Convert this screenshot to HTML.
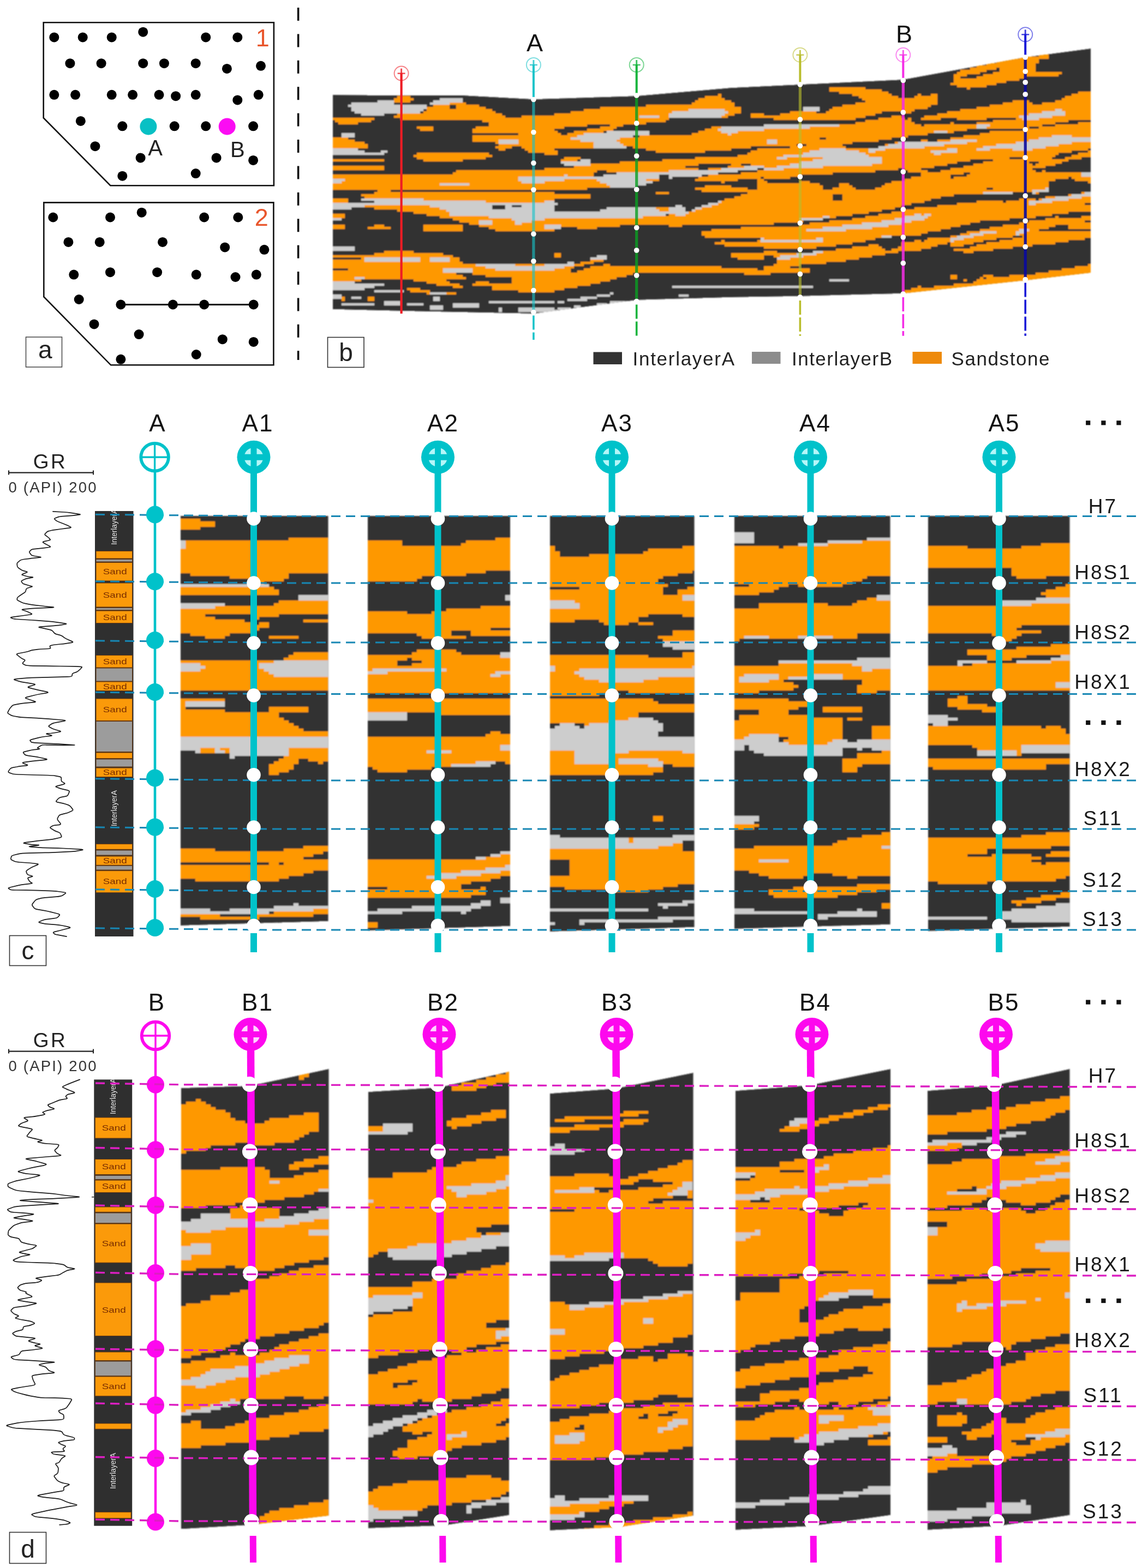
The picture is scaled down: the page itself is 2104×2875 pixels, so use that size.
<!DOCTYPE html>
<html lang="en"><head><meta charset="utf-8"><title>Figure</title>
<style>
html,body{margin:0;padding:0;background:#fff;}
body{width:2104px;height:2875px;overflow:hidden;}
svg{display:block;}
svg text{font-family:"Liberation Sans",sans-serif;}
</style></head><body>
<svg width="2104" height="2875" viewBox="0 0 2104 2875">
<defs><filter id="soft" x="-2%" y="-2%" width="104%" height="104%"><feGaussianBlur stdDeviation="1.1"/></filter></defs>
<rect width="2104" height="2875" fill="#fff"/>
<g id="panel-a">
<polygon points="79.7,41.2 501.9,41.2 501.9,340.2 202.3,340.2 79.7,216.1" fill="#fff" stroke="#111" stroke-width="2.6"/>
<circle cx="99.3" cy="68.4" r="9" fill="#000"/>
<circle cx="151.7" cy="68.4" r="9" fill="#000"/>
<circle cx="204.7" cy="68.4" r="9" fill="#000"/>
<circle cx="262.2" cy="58.7" r="9" fill="#000"/>
<circle cx="377.2" cy="68.4" r="9" fill="#000"/>
<circle cx="435.3" cy="68.4" r="9" fill="#000"/>
<circle cx="128.4" cy="116.2" r="9" fill="#000"/>
<circle cx="185.6" cy="116.2" r="9" fill="#000"/>
<circle cx="262.2" cy="116.2" r="9" fill="#000"/>
<circle cx="300.9" cy="116.2" r="9" fill="#000"/>
<circle cx="358.7" cy="116.2" r="9" fill="#000"/>
<circle cx="415.9" cy="125.9" r="9" fill="#000"/>
<circle cx="478" cy="120.8" r="9" fill="#000"/>
<circle cx="99.3" cy="173.8" r="9" fill="#000"/>
<circle cx="138.1" cy="173.8" r="9" fill="#000"/>
<circle cx="204.7" cy="173.8" r="9" fill="#000"/>
<circle cx="243.1" cy="173.8" r="9" fill="#000"/>
<circle cx="291.5" cy="173.8" r="9" fill="#000"/>
<circle cx="322.1" cy="176.2" r="9" fill="#000"/>
<circle cx="358.7" cy="173.8" r="9" fill="#000"/>
<circle cx="435.3" cy="183.4" r="9" fill="#000"/>
<circle cx="473.7" cy="173.8" r="9" fill="#000"/>
<circle cx="147.8" cy="221.9" r="9" fill="#000"/>
<circle cx="224.3" cy="231.3" r="9" fill="#000"/>
<circle cx="319.7" cy="231.3" r="9" fill="#000"/>
<circle cx="377.2" cy="231.3" r="9" fill="#000"/>
<circle cx="464.1" cy="231.3" r="9" fill="#000"/>
<circle cx="174.4" cy="268.2" r="9" fill="#000"/>
<circle cx="257.6" cy="289.4" r="9" fill="#000"/>
<circle cx="396.6" cy="289.4" r="9" fill="#000"/>
<circle cx="464.1" cy="293.9" r="9" fill="#000"/>
<circle cx="224.3" cy="322.7" r="9" fill="#000"/>
<circle cx="358.7" cy="318.1" r="9" fill="#000"/>
<circle cx="271.9" cy="231.9" r="15.5" fill="#08c0c4"/>
<circle cx="416.2" cy="231.9" r="15.5" fill="#fb0cf3"/>
<text x="284.6" y="284.8" font-size="40" text-anchor="middle" fill="#222">A</text>
<text x="435.3" y="287.9" font-size="40" text-anchor="middle" fill="#222">B</text>
<text x="481.3" y="84.5" font-size="45" text-anchor="middle" fill="#e9562c">1</text>
<polygon points="80.3,371.4 501.4,371.4 501.4,669.3 203.1,669.3 80.3,544.2" fill="#fff" stroke="#111" stroke-width="2.6"/>
<circle cx="97.3" cy="398.5" r="9" fill="#000"/>
<circle cx="202" cy="398.5" r="9" fill="#000"/>
<circle cx="259.7" cy="389.7" r="9" fill="#000"/>
<circle cx="374.2" cy="398.5" r="9" fill="#000"/>
<circle cx="436.3" cy="398.5" r="9" fill="#000"/>
<circle cx="125.4" cy="443.9" r="9" fill="#000"/>
<circle cx="182.7" cy="443.9" r="9" fill="#000"/>
<circle cx="298" cy="443.9" r="9" fill="#000"/>
<circle cx="412.2" cy="453.4" r="9" fill="#000"/>
<circle cx="484.4" cy="457.8" r="9" fill="#000"/>
<circle cx="135.3" cy="503.6" r="9" fill="#000"/>
<circle cx="202" cy="499.2" r="9" fill="#000"/>
<circle cx="288.1" cy="499.2" r="9" fill="#000"/>
<circle cx="359.7" cy="503.6" r="9" fill="#000"/>
<circle cx="431.5" cy="508" r="9" fill="#000"/>
<circle cx="469.8" cy="503.6" r="9" fill="#000"/>
<circle cx="144.7" cy="549" r="9" fill="#000"/>
<circle cx="221.4" cy="558.5" r="9" fill="#000"/>
<circle cx="316.9" cy="558.5" r="9" fill="#000"/>
<circle cx="374.2" cy="558.5" r="9" fill="#000"/>
<circle cx="464.7" cy="558.5" r="9" fill="#000"/>
<circle cx="172.5" cy="594.4" r="9" fill="#000"/>
<circle cx="254.6" cy="613.1" r="9" fill="#000"/>
<circle cx="407.8" cy="622.2" r="9" fill="#000"/>
<circle cx="464.7" cy="626.9" r="9" fill="#000"/>
<circle cx="221.4" cy="658.8" r="9" fill="#000"/>
<circle cx="359.7" cy="650" r="9" fill="#000"/>
<line x1="221.4" y1="558.5" x2="464.7" y2="558.5" stroke="#000" stroke-width="3"/>
<text x="479.3" y="414.1" font-size="45" text-anchor="middle" fill="#e9562c">2</text>
<rect x="47.5" y="618" width="66" height="55" fill="#fff" stroke="#444" stroke-width="1.5"/>
<text x="82.7" y="657.1" font-size="46" text-anchor="middle" fill="#222">a</text>
<rect x="544.8" y="14" width="3.6" height="24" fill="#111"/>
<rect x="544.8" y="62.4" width="3.6" height="24" fill="#111"/>
<rect x="544.8" y="110.8" width="3.6" height="24" fill="#111"/>
<rect x="544.8" y="159.2" width="3.6" height="24" fill="#111"/>
<rect x="544.8" y="207.6" width="3.6" height="24" fill="#111"/>
<rect x="544.8" y="256" width="3.6" height="24" fill="#111"/>
<rect x="544.8" y="304.4" width="3.6" height="24" fill="#111"/>
<rect x="544.8" y="352.8" width="3.6" height="24" fill="#111"/>
<rect x="544.8" y="401.2" width="3.6" height="24" fill="#111"/>
<rect x="544.8" y="449.6" width="3.6" height="24" fill="#111"/>
<rect x="544.8" y="498" width="3.6" height="24" fill="#111"/>
<rect x="544.8" y="546.4" width="3.6" height="24" fill="#111"/>
<rect x="544.8" y="594.8" width="3.6" height="24" fill="#111"/>
<rect x="544.8" y="643.2" width="3.6" height="16.8" fill="#111"/>
</g>
<g id="panel-b">
<clipPath id="cp1"><polygon points="610,174 735,175 850,175 978,182 1167,176 1340,161 1466,155 1655,146 1879,105 1999,89 1999,500 1879,514 1655,538 1466,543 1340,545 1167,550 978,575 735,570 610,567"/></clipPath>
<g filter="url(#soft)"><g clip-path="url(#cp1)" shape-rendering="crispEdges">
<polygon points="610,174 735,175 850,175 978,182 1167,176 1340,161 1466,155 1655,146 1879,105 1999,89 1999,500 1879,514 1655,538 1466,543 1340,545 1167,550 978,575 735,570 610,567" fill="#313131"/>
<g transform="translate(608 88) scale(6 4)">
<path fill="#fe9802" d="M216 3h3v1h-3zM210 4h9v1h-9zM205 5h11v1h-11zM203 6h13v1h-13zM200 7h15v1h-15zM197 8h18v1h-18zM195 9h8v1h-8zM204 9h11v2h-11zM192 10h8v1h-8zM191 11h7v1h-7zM202 11h21v1h-21zM190 12h4v1h-4zM199 12h23v1h-23zM190 13h2v1h-2zM197 13h15v1h-15zM190 14h20v1h-20zM190 15h16v1h-16zM189 16h14v1h-14zM191 17h9v1h-9zM194 18h1v1h-1zM152 18h11v1h-11zM152 19h16v1h-16zM155 20h15v1h-15zM228 20h4v1h-4zM183 21h2v1h-2zM159 21h12v1h-12zM179 21h1v1h-1zM226 21h6v1h-6zM118 21h1v1h-1zM224 22h8v1h-8zM161 22h12v1h-12zM178 22h7v1h-7zM20 22h4v1h-4zM114 22h5v1h-5zM19 23h6v1h-6zM162 23h23v1h-23zM112 23h8v1h-8zM223 23h9v1h-9zM163 24h22v1h-22zM19 24h5v1h-5zM208 24h5v1h-5zM221 24h11v1h-11zM111 24h11v1h-11zM110 25h13v1h-13zM36 25h5v1h-5zM205 25h9v1h-9zM217 25h15v1h-15zM160 25h25v1h-25zM201 26h31v1h-31zM38 26h7v1h-7zM96 26h27v1h-27zM31 26h5v1h-5zM156 26h27v1h-27zM38 27h9v1h-9zM153 27h29v1h-29zM197 27h35v1h-35zM29 27h7v1h-7zM82 27h43v1h-43zM77 28h32v1h-32zM29 28h20v1h-20zM152 28h26v1h-26zM223 28h9v1h-9zM120 28h5v1h-5zM192 28h29v1h-29zM28 29h22v1h-22zM151 29h17v1h-17zM188 29h29v1h-29zM73 29h31v1h-31zM175 29h2v1h-2zM140 29h8v1h-8zM121 29h4v1h-4zM224 29h8v2h-8zM137 30h29v1h-29zM120 30h3v1h-3zM128 30h4v1h-4zM185 30h28v1h-28zM68 30h35v1h-35zM20 30h32v1h-32zM128 31h35v1h-35zM19 31h34v1h-34zM119 31h2v1h-2zM58 31h36v1h-36zM100 31h3v1h-3zM171 31h3v1h-3zM220 31h12v1h-12zM181 31h29v1h-29zM209 32h2v1h-2zM135 32h25v1h-25zM176 32h1v1h-1zM191 32h9v1h-9zM167 32h8v1h-8zM21 32h82v1h-82zM216 32h16v1h-16zM0 32h13v1h-13zM180 32h6v1h-6zM202 33h23v1h-23zM46 33h56v1h-56zM1 33h11v1h-11zM163 33h14v1h-14zM48 34h48v1h-48zM2 34h6v1h-6zM189 34h1v1h-1zM228 34h4v1h-4zM160 34h18v1h-18zM197 34h24v1h-24zM201 35h16v1h-16zM85 35h4v1h-4zM221 35h11v1h-11zM48 35h30v1h-30zM181 35h16v1h-16zM155 35h25v1h-25zM44 36h27v1h-27zM26 36h5v1h-5zM146 36h51v1h-51zM82 36h5v1h-5zM200 36h13v1h-13zM216 36h16v1h-16zM116 36h3v1h-3zM78 37h8v1h-8zM114 37h4v1h-4zM132 37h62v1h-62zM27 37h4v1h-4zM212 37h20v1h-20zM43 37h25v1h-25zM74 38h9v1h-9zM201 38h31v1h-31zM43 38h26v1h-26zM188 38h2v1h-2zM124 38h60v1h-60zM112 38h7v1h-7zM57 39h13v1h-13zM72 39h5v1h-5zM122 39h60v1h-60zM110 39h11v1h-11zM198 39h34v1h-34zM94 40h82v1h-82zM193 40h27v1h-27zM226 40h6v1h-6zM43 40h32v1h-32zM0 41h5v1h-5zM43 41h30v1h-30zM88 41h61v1h-61zM151 41h20v1h-20zM189 41h27v1h-27zM43 42h8v1h-8zM136 42h31v1h-31zM180 42h2v1h-2zM57 42h19v1h-19zM185 42h4v1h-4zM87 42h46v1h-46zM0 42h7v1h-7zM197 42h16v1h-16zM57 43h23v1h-23zM88 43h45v1h-45zM136 43h23v1h-23zM226 43h6v1h-6zM0 43h10v1h-10zM194 43h15v1h-15zM172 43h1v1h-1zM50 43h1v1h-1zM89 44h53v1h-53zM169 44h1v1h-1zM145 44h11v1h-11zM222 44h10v1h-10zM187 44h16v1h-16zM51 44h29v1h-29zM0 44h11v2h-11zM140 45h17v1h-17zM58 45h22v1h-22zM181 45h18v1h-18zM218 45h14v1h-14zM50 45h5v1h-5zM92 45h36v1h-36zM51 46h2v1h-2zM169 46h19v1h-19zM201 46h7v1h-7zM191 46h6v1h-6zM157 46h7v1h-7zM214 46h17v1h-17zM59 46h9v1h-9zM130 46h19v1h-19zM96 46h26v1h-26zM231 47h1v1h-1zM191 47h35v1h-35zM99 47h15v1h-15zM60 47h9v1h-9zM128 47h18v1h-18zM166 47h17v1h-17zM161 47h3v1h-3zM127 48h17v1h-17zM186 48h36v1h-36zM26 48h22v1h-22zM163 48h21v1h-21zM65 48h4v1h-4zM228 48h4v1h-4zM124 49h14v1h-14zM164 49h57v1h-57zM226 49h6v1h-6zM25 49h24v1h-24zM71 50h5v1h-5zM139 50h11v1h-11zM224 50h5v1h-5zM26 50h21v1h-21zM111 50h25v1h-25zM211 50h9v1h-9zM168 50h39v1h-39zM202 51h23v1h-23zM28 51h12v1h-12zM168 51h27v1h-27zM0 51h16v1h-16zM70 51h5v1h-5zM101 51h46v1h-46zM88 52h55v1h-55zM216 52h7v1h-7zM168 52h23v1h-23zM199 52h14v1h-14zM122 53h3v1h-3zM196 53h18v1h-18zM215 53h6v1h-6zM79 53h33v1h-33zM165 53h23v1h-23zM128 53h12v1h-12zM74 54h34v1h-34zM132 54h4v1h-4zM121 54h5v1h-5zM150 54h34v1h-34zM193 54h25v1h-25zM0 54h16v2h-16zM115 55h4v1h-4zM138 55h35v1h-35zM65 55h47v1h-47zM189 55h25v1h-25zM175 55h5v1h-5zM130 56h36v1h-36zM176 56h6v1h-6zM186 56h29v1h-29zM38 56h43v1h-43zM84 56h19v1h-19zM217 56h1v1h-1zM125 57h28v1h-28zM180 57h13v1h-13zM37 57h43v1h-43zM195 57h34v1h-34zM72 58h8v1h-8zM0 58h71v1h-71zM115 58h28v1h-28zM194 58h35v1h-35zM180 58h9v1h-9zM0 59h57v1h-57zM112 59h19v1h-19zM177 59h12v1h-12zM132 59h8v1h-8zM226 59h6v1h-6zM190 59h35v1h-35zM111 60h13v1h-13zM130 60h2v1h-2zM71 60h10v1h-10zM227 60h5v1h-5zM4 60h53v1h-53zM175 60h46v1h-46zM96 60h4v1h-4zM231 61h1v1h-1zM3 61h55v1h-55zM130 61h3v1h-3zM65 61h17v1h-17zM171 61h48v1h-48zM119 61h1v1h-1zM143 61h3v1h-3zM130 62h19v1h-19zM0 62h33v1h-33zM42 62h42v1h-42zM155 62h3v1h-3zM169 62h50v1h-50zM114 63h8v1h-8zM0 63h85v1h-85zM155 63h4v1h-4zM168 63h51v1h-51zM130 63h20v2h-20zM202 64h16v1h-16zM111 64h16v1h-16zM153 64h7v1h-7zM0 64h78v1h-78zM166 64h34v1h-34zM113 65h101v1h-101zM14 65h4v1h-4zM229 66h1v1h-1zM215 66h1v1h-1zM99 66h4v1h-4zM13 66h55v1h-55zM127 66h72v1h-72zM125 67h28v1h-28zM9 67h70v1h-70zM225 67h1v1h-1zM156 67h34v1h-34zM156 68h30v1h-30zM123 68h30v1h-30zM10 68h69v1h-69zM229 68h3v1h-3zM218 68h3v1h-3zM120 69h33v1h-33zM210 69h5v1h-5zM216 69h1v1h-1zM225 69h7v1h-7zM28 69h40v1h-40zM156 69h27v1h-27zM0 69h5v2h-5zM220 70h12v1h-12zM206 70h7v1h-7zM47 70h18v1h-18zM119 70h62v1h-62zM197 70h8v1h-8zM215 71h15v1h-15zM191 71h22v1h-22zM118 71h59v1h-59zM116 72h58v1h-58zM10 72h20v1h-20zM185 72h47v1h-47zM113 73h59v1h-59zM13 73h20v1h-20zM99 73h4v1h-4zM178 73h54v1h-54zM20 74h15v1h-15zM111 74h57v1h-57zM174 74h58v1h-58zM100 74h3v1h-3zM109 75h55v1h-55zM25 75h11v1h-11zM171 75h54v1h-54zM103 76h2v1h-2zM180 76h1v1h-1zM167 76h11v1h-11zM183 76h37v1h-37zM108 76h51v1h-51zM29 76h7v1h-7zM0 76h4v2h-4zM182 77h33v1h-33zM152 77h2v1h-2zM95 77h55v1h-55zM163 77h12v1h-12zM229 77h3v1h-3zM33 77h15v1h-15zM221 77h1v1h-1zM159 78h13v1h-13zM65 78h78v1h-78zM37 78h18v1h-18zM218 78h14v1h-14zM181 78h26v1h-26zM213 79h17v1h-17zM39 79h6v1h-6zM177 79h21v1h-21zM152 79h16v1h-16zM61 79h83v1h-83zM49 79h7v2h-7zM58 80h77v1h-77zM146 80h16v1h-16zM174 80h21v1h-21zM42 80h3v1h-3zM210 80h22v1h-22zM205 81h16v1h-16zM143 81h13v1h-13zM13 81h3v1h-3zM170 81h22v1h-22zM103 81h4v1h-4zM45 81h20v1h-20zM70 81h18v1h-18zM225 81h7v2h-7zM0 81h4v2h-4zM165 82h24v1h-24zM11 82h7v1h-7zM75 82h6v1h-6zM201 82h18v1h-18zM48 82h17v1h-17zM125 82h25v1h-25zM28 81h12v3h-12zM157 83h29v1h-29zM213 83h3v1h-3zM50 83h18v1h-18zM116 83h29v1h-29zM198 83h12v1h-12zM194 84h4v1h-4zM203 84h6v1h-6zM212 84h20v1h-20zM113 84h69v1h-69zM192 85h3v1h-3zM210 85h22v1h-22zM113 85h67v1h-67zM199 85h10v1h-10zM196 86h12v1h-12zM189 86h2v1h-2zM211 86h21v1h-21zM114 86h54v1h-54zM182 87h7v1h-7zM208 87h22v1h-22zM150 87h16v1h-16zM132 87h16v1h-16zM193 87h10v1h-10zM130 88h1v1h-1zM190 88h9v1h-9zM150 88h13v1h-13zM181 88h8v1h-8zM119 88h1v1h-1zM204 88h21v1h-21zM178 88h2v1h-2zM189 89h7v1h-7zM200 89h21v1h-21zM117 89h42v1h-42zM174 89h14v1h-14zM197 90h17v1h-17zM164 90h3v1h-3zM174 90h11v1h-11zM120 90h34v1h-34zM189 90h4v1h-4zM173 91h10v1h-10zM195 91h13v1h-13zM159 91h9v1h-9zM132 91h16v1h-16zM154 92h15v1h-15zM190 92h12v1h-12zM171 92h9v1h-9zM16 93h9v1h-9zM150 93h23v1h-23zM132 93h4v1h-4zM193 93h3v1h-3zM13 94h21v1h-21zM148 94h21v1h-21zM122 94h20v1h-20zM68 94h2v2h-2zM0 95h37v1h-37zM135 95h2v1h-2zM144 95h21v1h-21zM122 95h10v1h-10zM140 96h21v1h-21zM9 96h1v1h-1zM124 96h8v1h-8zM36 96h3v2h-3zM27 96h3v2h-3zM79 97h4v1h-4zM136 97h21v1h-21zM0 97h10v1h-10zM136 98h15v1h-15zM0 98h40v1h-40zM76 98h4v1h-4zM231 99h1v1h-1zM0 99h44v1h-44zM83 99h2v1h-2zM135 99h8v1h-8zM56 99h9v1h-9zM74 99h3v1h-3zM79 100h40v1h-40zM0 100h47v1h-47zM132 100h8v1h-8zM227 100h5v1h-5zM71 100h3v1h-3zM5 101h29v1h-29zM68 101h5v1h-5zM132 101h14v1h-14zM43 101h7v1h-7zM223 101h9v1h-9zM77 101h53v1h-53zM75 102h71v1h-71zM0 102h34v1h-34zM43 102h30v1h-30zM219 102h13v1h-13zM126 103h8v1h-8zM43 103h49v1h-49zM215 103h17v1h-17zM0 103h38v1h-38zM47 104h43v1h-43zM199 104h3v1h-3zM0 104h40v1h-40zM207 104h25v1h-25zM189 104h2v2h-2zM198 105h1v1h-1zM10 105h31v1h-31zM0 105h7v1h-7zM55 105h32v1h-32zM200 105h32v1h-32zM25 106h10v1h-10zM55 106h30v1h-30zM193 106h1v1h-1zM197 106h35v1h-35zM0 106h9v1h-9zM55 107h27v1h-27zM44 107h4v1h-4zM196 107h36v1h-36zM29 107h7v1h-7zM43 108h36v1h-36zM190 108h42v1h-42zM32 108h7v1h-7zM37 109h3v1h-3zM49 109h26v1h-26zM184 109h48v1h-48zM179 109h1v1h-1zM23 110h4v1h-4zM49 110h22v1h-22zM177 110h55v1h-55zM24 111h6v1h-6zM57 111h11v1h-11zM175 111h57v2h-57zM35 112h3v1h-3zM29 112h1v1h-1zM175 113h26v3h-26zM3 114h1v2h-1zM11 114h2v2h-2z"/>
<path fill="#cdcdcd" d="M33 23h7v1h-7zM14 24h5v1h-5zM31 24h9v1h-9zM6 25h13v1h-13zM30 25h6v1h-6zM5 26h24v1h-24zM6 27h23v1h-23zM144 27h5v2h-5zM221 28h2v1h-2zM6 28h22v1h-22zM109 28h11v1h-11zM217 29h7v1h-7zM104 29h17v1h-17zM7 29h20v1h-20zM9 30h7v1h-7zM103 30h17v1h-17zM213 30h11v1h-11zM210 31h10v1h-10zM103 31h16v1h-16zM94 31h6v1h-6zM211 32h5v1h-5zM132 35h23v1h-23zM197 35h4v1h-4zM197 36h3v1h-3zM119 36h27v1h-27zM118 37h14v1h-14zM84 38h13v1h-13zM119 38h5v1h-5zM184 38h4v1h-4zM121 39h1v1h-1zM77 39h20v1h-20zM3 39h4v2h-4zM75 40h17v1h-17zM220 40h6v1h-6zM216 41h16v1h-16zM73 41h15v1h-15zM76 42h11v1h-11zM189 42h8v1h-8zM213 42h19v1h-19zM133 42h3v2h-3zM51 42h6v2h-6zM80 43h8v1h-8zM173 43h21v1h-21zM209 43h17v1h-17zM203 44h19v1h-19zM80 44h9v1h-9zM170 44h17v1h-17zM80 45h10v1h-10zM167 45h14v1h-14zM199 45h19v1h-19zM149 46h8v1h-8zM188 46h3v1h-3zM164 46h5v1h-5zM0 46h8v1h-8zM208 46h6v1h-6zM197 46h4v1h-4zM15 47h2v1h-2zM164 47h2v1h-2zM183 47h8v1h-8zM146 47h15v1h-15zM0 47h10v1h-10zM0 48h16v1h-16zM144 48h19v1h-19zM184 48h2v1h-2zM138 49h26v1h-26zM150 50h18v1h-18zM136 50h3v1h-3zM76 51h3v1h-3zM147 51h21v1h-21zM143 52h25v1h-25zM70 52h9v1h-9zM71 53h8v1h-8zM140 53h25v1h-25zM126 54h6v1h-6zM136 54h14v1h-14zM132 55h6v1h-6zM119 55h11v1h-11zM103 56h21v1h-21zM87 57h31v1h-31zM229 57h3v2h-3zM83 58h17v1h-17zM103 58h10v1h-10zM71 58h1v1h-1zM103 59h1v1h-1zM57 59h43v1h-43zM57 60h14v1h-14zM81 60h15v1h-15zM0 60h4v1h-4zM0 61h3v1h-3zM58 61h7v1h-7zM82 61h16v1h-16zM33 62h9v1h-9zM84 62h12v1h-12zM85 63h8v1h-8zM218 64h1v1h-1zM214 65h5v1h-5zM230 66h2v1h-2zM214 66h1v1h-1zM199 66h9v1h-9zM226 67h6v1h-6zM221 68h8v1h-8zM217 69h8v1h-8zM9 69h19v1h-19zM65 70h3v1h-3zM213 70h7v1h-7zM13 70h34v1h-34zM118 70h1v1h-1zM213 71h2v1h-2zM0 71h69v1h-69zM115 71h3v1h-3zM53 72h2v1h-2zM58 72h10v1h-10zM30 72h19v1h-19zM113 72h3v1h-3zM105 72h2v1h-2zM0 72h10v1h-10zM111 73h2v1h-2zM0 73h6v1h-6zM53 73h15v1h-15zM84 73h15v1h-15zM33 73h16v1h-16zM103 73h5v2h-5zM82 74h18v1h-18zM110 74h1v1h-1zM35 74h33v1h-33zM36 75h73v1h-73zM105 76h3v1h-3zM181 76h2v1h-2zM178 76h2v1h-2zM36 76h66v1h-66zM150 77h2v1h-2zM48 77h47v1h-47zM175 77h7v1h-7zM0 78h3v1h-3zM143 78h7v1h-7zM172 78h9v1h-9zM55 78h10v1h-10zM168 79h9v1h-9zM56 79h5v1h-5zM45 79h4v2h-4zM162 80h12v1h-12zM56 80h2v1h-2zM156 81h14v1h-14zM65 81h5v2h-5zM150 82h15v1h-15zM145 83h12v1h-12zM210 83h3v1h-3zM209 84h3v1h-3zM198 84h5v1h-5zM195 85h4v1h-4zM209 85h1v1h-1zM191 86h5v1h-5zM168 86h3v1h-3zM189 87h4v1h-4zM131 87h1v1h-1zM148 87h2v1h-2zM131 88h19v1h-19zM189 88h1v1h-1zM0 91h7v2h-7zM147 93h3v1h-3zM142 94h6v1h-6zM137 95h7v1h-7zM81 95h3v1h-3zM79 96h5v1h-5zM136 96h4v1h-4zM10 96h17v2h-17zM30 96h6v2h-6zM72 98h2v1h-2zM65 99h9v1h-9zM44 99h12v1h-12zM47 100h24v1h-24zM50 101h18v1h-18zM34 101h9v2h-9zM7 105h3v1h-3zM152 106h6v1h-6zM0 107h7v1h-7zM0 108h16v1h-16zM0 109h13v1h-13zM104 109h43v1h-43zM0 110h10v1h-10zM13 111h9v1h-9zM30 112h5v1h-5zM85 112h1v1h-1zM81 113h4v1h-4zM106 113h3v1h-3zM0 113h3v2h-3zM6 114h3v1h-3zM76 114h5v1h-5zM31 114h2v2h-2zM72 115h6v1h-6zM69 116h2v1h-2zM85 116h6v1h-6zM48 116h20v1h-20zM16 116h5v2h-5zM23 117h5v1h-5zM3 117h10v1h-10zM81 117h3v1h-3zM37 117h8v2h-8zM74 118h2v1h-2zM30 118h4v2h-4zM57 119h11v1h-11zM69 119h4v1h-4zM51 119h1v2h-1zM57 120h12v1h-12z"/>
</g></g></g>

<line x1="735.6" y1="134.6" x2="735.6" y2="575" stroke="#ee1c24" stroke-width="4.2"/>
<circle cx="735.6" cy="134.6" r="13" fill="none" stroke="#ee1c24" stroke-width="2" opacity="0.55"/>
<line x1="728.6" y1="134.6" x2="742.6" y2="134.6" stroke="#ee1c24" stroke-width="2.4" opacity="0.8"/>
<line x1="735.6" y1="125.6" x2="735.6" y2="134.6" stroke="#ee1c24" stroke-width="3" opacity="0.8"/>
<line x1="977.9" y1="119" x2="977.9" y2="182.5" stroke="#18c3c9" stroke-width="4"/>
<line x1="977.9" y1="182.5" x2="977.9" y2="572.5" stroke="#18c3c9" stroke-width="5.2" opacity="0.62"/>
<line x1="977.9" y1="578.5" x2="977.9" y2="623" stroke="#18c3c9" stroke-width="3.6" stroke-dasharray="26 5"/>
<circle cx="977.9" cy="182.5" r="4.8" fill="#fff"/>
<circle cx="977.9" cy="242.5" r="4.8" fill="#fff"/>
<circle cx="977.9" cy="299" r="4.8" fill="#fff"/>
<circle cx="977.9" cy="348" r="4.8" fill="#fff"/>
<circle cx="977.9" cy="429" r="4.8" fill="#fff"/>
<circle cx="977.9" cy="479" r="4.8" fill="#fff"/>
<circle cx="977.9" cy="532.5" r="4.8" fill="#fff"/>
<circle cx="977.9" cy="572.5" r="4.8" fill="#fff"/>
<circle cx="977.9" cy="119" r="13" fill="none" stroke="#18c3c9" stroke-width="2" opacity="0.55"/>
<line x1="970.9" y1="119" x2="984.9" y2="119" stroke="#18c3c9" stroke-width="2.4" opacity="0.8"/>
<line x1="977.9" y1="110" x2="977.9" y2="119" stroke="#18c3c9" stroke-width="3" opacity="0.8"/>
<line x1="1166.7" y1="119" x2="1166.7" y2="175" stroke="#12b43c" stroke-width="4"/>
<line x1="1166.7" y1="175" x2="1166.7" y2="552.5" stroke="#0aa022" stroke-width="5.2" opacity="0.8"/>
<line x1="1166.7" y1="558.5" x2="1166.7" y2="616" stroke="#12b43c" stroke-width="3.6" stroke-dasharray="26 5"/>
<circle cx="1166.7" cy="175" r="4.8" fill="#fff"/>
<circle cx="1166.7" cy="226" r="4.8" fill="#fff"/>
<circle cx="1166.7" cy="286" r="4.8" fill="#fff"/>
<circle cx="1166.7" cy="347.5" r="4.8" fill="#fff"/>
<circle cx="1166.7" cy="417.5" r="4.8" fill="#fff"/>
<circle cx="1166.7" cy="459" r="4.8" fill="#fff"/>
<circle cx="1166.7" cy="505" r="4.8" fill="#fff"/>
<circle cx="1166.7" cy="552.5" r="4.8" fill="#fff"/>
<circle cx="1166.7" cy="119" r="13" fill="none" stroke="#12b43c" stroke-width="2" opacity="0.55"/>
<line x1="1159.7" y1="119" x2="1173.7" y2="119" stroke="#12b43c" stroke-width="2.4" opacity="0.8"/>
<line x1="1166.7" y1="110" x2="1166.7" y2="119" stroke="#12b43c" stroke-width="3" opacity="0.8"/>
<line x1="1466.4" y1="100.7" x2="1466.4" y2="155" stroke="#b9bd2c" stroke-width="4"/>
<line x1="1466.4" y1="155" x2="1466.4" y2="545" stroke="#b9bd2c" stroke-width="5.2" opacity="0.62"/>
<line x1="1466.4" y1="551" x2="1466.4" y2="615.7" stroke="#b9bd2c" stroke-width="3.6" stroke-dasharray="26 5"/>
<circle cx="1466.4" cy="155" r="4.8" fill="#fff"/>
<circle cx="1466.4" cy="219" r="4.8" fill="#fff"/>
<circle cx="1466.4" cy="267.5" r="4.8" fill="#fff"/>
<circle cx="1466.4" cy="324" r="4.8" fill="#fff"/>
<circle cx="1466.4" cy="409" r="4.8" fill="#fff"/>
<circle cx="1466.4" cy="457.5" r="4.8" fill="#fff"/>
<circle cx="1466.4" cy="502.5" r="4.8" fill="#fff"/>
<circle cx="1466.4" cy="545" r="4.8" fill="#fff"/>
<circle cx="1466.4" cy="100.7" r="13" fill="none" stroke="#b9bd2c" stroke-width="2" opacity="0.55"/>
<line x1="1459.4" y1="100.7" x2="1473.4" y2="100.7" stroke="#b9bd2c" stroke-width="2.4" opacity="0.8"/>
<line x1="1466.4" y1="91.7" x2="1466.4" y2="100.7" stroke="#b9bd2c" stroke-width="3" opacity="0.8"/>
<line x1="1655.3" y1="100.7" x2="1655.3" y2="147.5" stroke="#f52ee6" stroke-width="4"/>
<line x1="1655.3" y1="147.5" x2="1655.3" y2="539" stroke="#f52ee6" stroke-width="5.2" opacity="0.85"/>
<line x1="1655.3" y1="545" x2="1655.3" y2="615.7" stroke="#f52ee6" stroke-width="3.6" stroke-dasharray="26 5"/>
<circle cx="1655.3" cy="147.5" r="4.8" fill="#fff"/>
<circle cx="1655.3" cy="206" r="4.8" fill="#fff"/>
<circle cx="1655.3" cy="255" r="4.8" fill="#fff"/>
<circle cx="1655.3" cy="315" r="4.8" fill="#fff"/>
<circle cx="1655.3" cy="384" r="4.8" fill="#fff"/>
<circle cx="1655.3" cy="435" r="4.8" fill="#fff"/>
<circle cx="1655.3" cy="482.5" r="4.8" fill="#fff"/>
<circle cx="1655.3" cy="539" r="4.8" fill="#fff"/>
<circle cx="1655.3" cy="100.7" r="13" fill="none" stroke="#f52ee6" stroke-width="2" opacity="0.55"/>
<line x1="1648.3" y1="100.7" x2="1662.3" y2="100.7" stroke="#f52ee6" stroke-width="2.4" opacity="0.8"/>
<line x1="1655.3" y1="91.7" x2="1655.3" y2="100.7" stroke="#f52ee6" stroke-width="3" opacity="0.8"/>
<line x1="1879.2" y1="63.3" x2="1879.2" y2="105" stroke="#1616d8" stroke-width="4"/>
<line x1="1879.2" y1="105" x2="1879.2" y2="512.5" stroke="#0a0aa0" stroke-width="5.2" opacity="0.9"/>
<line x1="1879.2" y1="518.5" x2="1879.2" y2="615.7" stroke="#1616d8" stroke-width="3.6" stroke-dasharray="26 5"/>
<circle cx="1879.2" cy="105" r="4.8" fill="#fff"/>
<circle cx="1879.2" cy="131" r="4.8" fill="#fff"/>
<circle cx="1879.2" cy="151" r="4.8" fill="#fff"/>
<circle cx="1879.2" cy="173" r="4.8" fill="#fff"/>
<circle cx="1879.2" cy="237.5" r="4.8" fill="#fff"/>
<circle cx="1879.2" cy="289" r="4.8" fill="#fff"/>
<circle cx="1879.2" cy="359" r="4.8" fill="#fff"/>
<circle cx="1879.2" cy="405" r="4.8" fill="#fff"/>
<circle cx="1879.2" cy="452.5" r="4.8" fill="#fff"/>
<circle cx="1879.2" cy="512.5" r="4.8" fill="#fff"/>
<circle cx="1879.2" cy="63.3" r="13" fill="none" stroke="#1616d8" stroke-width="2" opacity="0.55"/>
<line x1="1872.2" y1="63.3" x2="1886.2" y2="63.3" stroke="#1616d8" stroke-width="2.4" opacity="0.8"/>
<line x1="1879.2" y1="54.3" x2="1879.2" y2="63.3" stroke="#1616d8" stroke-width="3" opacity="0.8"/>
<text x="980" y="93.5" font-size="45" text-anchor="middle" fill="#111">A</text>
<text x="1657" y="77.5" font-size="45" text-anchor="middle" fill="#111">B</text>
<rect x="1087.5" y="645.5" width="52.5" height="22.5" fill="#333"/>
<rect x="1378" y="645" width="52.5" height="22" fill="#8c8c8c"/>
<rect x="1672.5" y="645" width="53.5" height="22" fill="#ee8a0c"/>
<text x="1159.5" y="669.5" font-size="35" fill="#222" textLength="186.5" lengthAdjust="spacing">InterlayerA</text>
<text x="1451" y="669.5" font-size="35" fill="#222" textLength="184" lengthAdjust="spacing">InterlayerB</text>
<text x="1743.5" y="669.5" font-size="35" fill="#222" textLength="180" lengthAdjust="spacing">Sandstone</text>
<rect x="600.5" y="618.5" width="66.5" height="55" fill="#fff" stroke="#333" stroke-width="1.6"/>
<text x="634" y="662" font-size="46" text-anchor="middle" fill="#222">b</text>
</g>
<g id="panel-c">
<text x="92" y="859" font-size="37" text-anchor="middle" fill="#222" letter-spacing="3.5">GR</text>
<path d="M16 866.6H171M16 862.6v8M171 862.6v8" stroke="#222" stroke-width="2.1" fill="none"/>
<text x="15.5" y="902.7" font-size="27.5" fill="#333" textLength="161" lengthAdjust="spacing">0 (API) 200</text>
<path d="M96.9 937.8L117.2 939Q124 939.4 130.3 940.3L142.9 942.3Q149.2 943.2 145.8 943.7L139 944.7Q135.6 945.2 128.8 945.7L115.3 946.6Q108.5 947.1 106.1 948.1L101.2 950Q98.8 951 100.2 952.2L103.1 954.6Q104.6 955.8 108.5 957.3L116.2 960.2Q120.1 961.6 123 963.1L128.8 966Q131.7 967.5 127.8 967.9L120.1 968.9Q116.2 969.4 111.4 970L101.7 971.3Q96.9 971.9 94.4 972.5L89.6 973.7Q87.2 974.2 85.7 975.7L82.8 978.6Q81.4 980 83.3 981.5L87.2 984.4Q89.1 985.9 90.1 986.9L92 989.1Q93 990.1 89.1 991L81.4 992.7Q77.5 993.6 78.9 994.6L81.8 996.5Q83.3 997.5 86 998.8L91.3 1001.5Q93.9 1002.9 89.8 1003.5L81.6 1004.6Q77.5 1005.2 72.6 1005.7L63 1006.7Q58.1 1007.2 56.9 1008.4L54.5 1010.8Q53.3 1012 54.5 1013.7L56.9 1017.1Q58.1 1018.8 63 1019.5L72.6 1021Q77.5 1021.7 72.6 1022.2L63 1023.1Q58.1 1023.6 53.3 1024.3L43.6 1025.5Q38.7 1026.2 36.8 1027.7L32.9 1030.8Q31 1032.3 31.2 1034.3L31.7 1038.2Q32 1040.1 34.1 1041.5L38.5 1044.5Q40.7 1045.9 43.3 1046.6L48.7 1048.1Q51.3 1048.8 48.2 1050L41.9 1052.4Q38.7 1053.7 41.6 1054.5L47.5 1056.3Q50.4 1057.1 53.3 1057.5L59.1 1058.2Q62 1058.5 58.1 1059.2L50.4 1060.7Q46.5 1061.4 44.6 1062.4L40.7 1064.3Q38.7 1065.3 39.5 1066.5L40.9 1068.9Q41.6 1070.1 44.8 1071.1L51.1 1073Q54.2 1074 55.7 1074.3L58.6 1075Q60 1075.4 57.1 1076.2L51.3 1078Q48.4 1078.8 47.9 1080.5L47 1083.9Q46.5 1085.6 44.6 1086.8L40.7 1089.2Q38.7 1090.5 37 1091.7L33.7 1094.1Q32 1095.3 31.7 1096.5L31.2 1098.9Q31 1100.1 33.9 1101.6L39.7 1104.5Q42.6 1106 46.5 1106.7L54.2 1108.1Q58.1 1108.9 64.4 1109.6L77 1111Q83.3 1111.8 87.9 1112.3L97.1 1113.2Q101.7 1113.7 90.8 1114.2L69 1115.2Q58.1 1115.6 53.3 1116.1L43.6 1117.1Q38.7 1117.6 41.6 1118.5L47.5 1120.5Q50.4 1121.5 52.8 1122.7L57.6 1125.1Q60 1126.3 54.7 1127L44.1 1128.5Q38.7 1129.2 33.7 1129.9L23.5 1131.4Q18.4 1132.1 20.1 1132.8L23.5 1134.3Q25.2 1135 33.4 1135.5L49.9 1136.5Q58.1 1136.9 67.8 1137.7L87.2 1139.1Q96.9 1139.9 103.6 1140.8L117.2 1142.8Q124 1143.7 120.1 1144.5L112.3 1145.9Q108.5 1146.6 98.5 1147.4L78.7 1148.8Q68.8 1149.5 71.9 1150.3L78.2 1151.7Q81.4 1152.4 84.7 1153.2L91.5 1154.6Q94.9 1155.4 96.4 1157L99.3 1160.4Q100.7 1162.1 103.6 1162.9L109.4 1164.3Q112.3 1165 114.3 1166.5L118.2 1169.4Q120.1 1170.8 124 1172.5L131.7 1175.9Q135.6 1177.6 130.8 1178.4L121.1 1179.8Q116.2 1180.5 111.4 1181L101.7 1182Q96.9 1182.5 95.4 1183L92.5 1183.9Q91 1184.4 91.5 1185.6L92.5 1188Q93 1189.2 88.1 1189.5L78.5 1190Q73.6 1190.2 69.7 1190.7L62 1191.7Q58.1 1192.2 56.2 1192.9L52.3 1194.3Q50.4 1195.1 45 1196L34.4 1198Q29.1 1198.9 31.5 1200.9L36.3 1204.7Q38.7 1206.7 40.7 1207.7L44.6 1209.6Q46.5 1210.6 45 1212L42.1 1214.9Q40.7 1216.4 42.6 1217.4L46.5 1219.6Q48.4 1220.6 60.5 1220.8L84.7 1221.1Q96.9 1221.2 110.4 1221.5L137.5 1221.9Q151.1 1222.2 150.1 1223.4L148.2 1225.8Q147.2 1227 145.8 1228.2L142.9 1230.7Q141.4 1231.9 139.2 1232.6L134.9 1234Q132.7 1234.8 132.4 1236.2L132 1239.1Q131.7 1240.6 123 1240.8L105.6 1241.3Q96.9 1241.5 87.2 1241.8L67.8 1242.3Q58.1 1242.5 49.4 1243.2L32 1244.7Q23.2 1245.4 27.1 1246.6L34.9 1249.1Q38.7 1250.3 45.8 1251.4L59.8 1253.6Q66.8 1254.7 62.5 1256L53.8 1258.6Q49.4 1260 53 1260.9L60.3 1262.9Q63.9 1263.8 70.7 1265.3L84.3 1268.2Q91 1269.6 85.2 1270.6L73.6 1272.5Q67.8 1273.5 62 1275L50.4 1277.9Q44.6 1279.3 47.9 1280.5L54.7 1283Q58.1 1284.2 60.3 1284.9L64.6 1286.3Q66.8 1287.1 59.8 1287.8L45.8 1289.2Q38.7 1290 34.9 1290.7L27.1 1292.2Q23.2 1292.9 21.8 1294.6L18.9 1298Q17.4 1299.7 16.5 1301.6L14.5 1305.5Q13.6 1307.4 15.5 1308.6L19.4 1311Q21.3 1312.3 25.2 1313L32.9 1314.4Q36.8 1315.2 47 1315.6L67.3 1316.6Q77.5 1317.1 89.1 1318.1L112.3 1320Q124 1321 117.2 1322.2L103.6 1324.6Q96.9 1325.8 94.7 1327.3L90.3 1330.2Q88.1 1331.6 90.3 1332.8L94.7 1335.3Q96.9 1336.5 101 1337.7L109.2 1340.1Q113.3 1341.3 109.2 1342L101 1343.5Q96.9 1344.2 93.5 1344.5L86.7 1344.9Q83.3 1345.2 86.7 1346.2L93.5 1348.1Q96.9 1349.1 92 1349.5L82.3 1350.5Q77.5 1351 71.7 1352.4L60 1355.4Q54.2 1356.8 55.2 1358L57.1 1360.4Q58.1 1361.6 67.8 1362.1L87.2 1363.1Q96.9 1363.6 108 1364.2L130.3 1365.5Q141.4 1366.1 133.2 1366.2L116.7 1366.4Q108.5 1366.5 100.7 1366.2L85.2 1365.8Q77.5 1365.5 75.1 1367L70.2 1369.9Q67.8 1371.3 69.2 1371.8L72.2 1372.8Q73.6 1373.3 69.7 1373.8L62 1374.7Q58.1 1375.2 54 1376.2L45.8 1378.1Q41.6 1379.1 42.9 1380.5L45.3 1383.4Q46.5 1384.9 51.8 1385.6L62.5 1387.1Q67.8 1387.8 73.1 1389L83.8 1391.4Q89.1 1392.6 81.4 1393.4L65.9 1394.8Q58.1 1395.5 53.5 1396.3L44.3 1397.7Q39.7 1398.5 42.9 1399.7L49.2 1402.1Q52.3 1403.3 47.9 1403.8L39.2 1404.7Q34.9 1405.2 31 1406L23.2 1407.4Q19.4 1408.1 18.2 1410.1L15.7 1413.9Q14.5 1415.9 17.2 1416.9L22.5 1418.8Q25.2 1419.8 33.4 1420L49.9 1420.5Q58.1 1420.7 67.8 1421L87.2 1421.5Q96.9 1421.7 100.7 1422.4L108.5 1423.9Q112.3 1424.6 112.3 1426.5L112.3 1430.4Q112.3 1432.3 114.3 1433.6L118.2 1436Q120.1 1437.2 115.3 1438.4L105.6 1440.8Q100.7 1442 103.1 1443L108 1444.9Q110.4 1445.9 114.8 1446.9L123.5 1448.8Q127.8 1449.8 126.9 1452.2L124.9 1457Q124 1459.5 120.1 1460.2L112.3 1461.6Q108.5 1462.4 106.8 1464.3L103.4 1468.2Q101.7 1470.1 105.3 1470.8L112.6 1472.3Q116.2 1473 119.1 1474L124.9 1475.9Q127.8 1476.9 129.5 1479.1L132.9 1483.4Q134.6 1485.6 132 1486.8L126.6 1489.2Q124 1490.5 120.1 1491.4L112.3 1493.4Q108.5 1494.3 107.5 1496.3L105.6 1500.1Q104.6 1502.1 106.5 1504.5L110.4 1509.3Q112.3 1511.8 108.5 1512.3L100.7 1513.2Q96.9 1513.7 95.4 1514.7L92.5 1516.6Q91 1517.6 93.5 1519L98.3 1521.9Q100.7 1523.4 103.1 1524.4L108 1526.3Q110.4 1527.3 111.1 1529.2L112.6 1533.1Q113.3 1535 109.2 1536L101 1537.9Q96.9 1538.9 89.6 1539.6L75.1 1541.1Q67.8 1541.8 61 1542.8L47.5 1544.7Q40.7 1545.7 45 1546.4L53.8 1547.8Q58.1 1548.6 62 1548.8L69.7 1549.3Q73.6 1549.5 67.8 1550.3L56.2 1551.7Q50.4 1552.4 57.1 1552.9L70.7 1553.9Q77.5 1554.4 87.2 1554.6L106.5 1555.1Q116.2 1555.4 125.9 1556L145.3 1557.2Q155 1557.9 150.1 1558.7L140.4 1560.3Q135.6 1561.2 125.9 1561.6L106.5 1562.6Q96.9 1563.1 82.3 1563.4L53.3 1564.1Q38.7 1564.5 34.4 1565.6L25.7 1567.8Q21.3 1568.9 20.8 1570.6L19.9 1574Q19.4 1575.7 21.8 1576.9L26.6 1579.3Q29.1 1580.5 36.3 1581L50.8 1582Q58.1 1582.5 61.5 1583L68.3 1583.9Q71.7 1584.4 68.3 1585.9L61.5 1588.8Q58.1 1590.2 55.4 1591.9L50.1 1595.3Q47.5 1597 48.2 1598.7L49.6 1602.1Q50.4 1603.8 53 1604.5L58.4 1606Q61 1606.7 58.4 1607.4L53 1608.9Q50.4 1609.6 51.3 1611.3L53.3 1614.7Q54.2 1616.4 55.7 1617.2L58.6 1619Q60 1619.9 54.7 1620.4L44.1 1621.6Q38.7 1622.2 32.7 1623.6L20.6 1626.5Q14.5 1628 15.7 1629L18.2 1630.9Q19.4 1631.9 29.1 1632L48.4 1632.2Q58.1 1632.3 68.8 1632.6L90.1 1633.4Q100.7 1633.8 106.1 1634.5L116.7 1636Q122 1636.7 119.6 1638.4L114.8 1641.8Q112.3 1643.5 103.6 1644.2L86.2 1645.7Q77.5 1646.4 74.6 1647.1L68.8 1648.6Q65.9 1649.3 63.9 1651.7L60 1656.6Q58.1 1659 59.6 1660.9L62.5 1664.8Q63.9 1666.7 69.7 1667.7L81.4 1669.6Q87.2 1670.6 93 1672.1L104.6 1675Q110.4 1676.4 109 1678.1L106.1 1681.5Q104.6 1683.2 98.8 1683.9L87.2 1685.4Q81.4 1686.1 78.5 1687.3L72.6 1689.7Q69.7 1690.9 72.6 1691.7L78.5 1693.1Q81.4 1693.8 88.1 1694.3L101.7 1695.3Q108.5 1695.8 114 1697L125.2 1699.4Q130.8 1700.6 127.1 1701.6L119.9 1703.5Q116.2 1704.5 111.4 1705.7L101.7 1708.1Q96.9 1709.3 97.8 1710.3L99.8 1712.3Q100.7 1713.2 106.1 1714.2L122 1717.1" fill="none" stroke="#1a1a1a" stroke-width="1.7" stroke-linejoin="round" stroke-linecap="round"/>
<clipPath id="lc937"><rect x="174" y="937" width="70.5" height="780"/></clipPath>
<rect x="174" y="937" width="70.5" height="780" fill="#2f2f2f"/>
<rect x="176" y="1010.5" width="66.5" height="13.5" fill="#fb9a0a" stroke="#6b3a10" stroke-width="1"/>
<rect x="176" y="1025.5" width="66.5" height="4.5" fill="#9c9c9c" stroke="#6b3a10" stroke-width="1"/>
<rect x="176" y="1031.5" width="66.5" height="33.5" fill="#fb9a0a" stroke="#6b3a10" stroke-width="1"/>
<rect x="176" y="1069" width="66.5" height="44" fill="#fb9a0a" stroke="#6b3a10" stroke-width="1"/>
<rect x="176" y="1114.5" width="66.5" height="4" fill="#9c9c9c" stroke="#6b3a10" stroke-width="1"/>
<rect x="176" y="1120" width="66.5" height="22.5" fill="#fb9a0a" stroke="#6b3a10" stroke-width="1"/>
<rect x="176" y="1201.5" width="66.5" height="22.5" fill="#fb9a0a" stroke="#6b3a10" stroke-width="1"/>
<rect x="176" y="1225" width="66.5" height="24" fill="#9c9c9c" stroke="#6b3a10" stroke-width="1"/>
<rect x="176" y="1250" width="66.5" height="16.5" fill="#fb9a0a" stroke="#6b3a10" stroke-width="1"/>
<rect x="176" y="1281" width="66.5" height="40.5" fill="#fb9a0a" stroke="#6b3a10" stroke-width="1"/>
<rect x="176" y="1322.5" width="66.5" height="56" fill="#9c9c9c" stroke="#6b3a10" stroke-width="1"/>
<rect x="176" y="1380" width="66.5" height="10.5" fill="#fb9a0a" stroke="#6b3a10" stroke-width="1"/>
<rect x="176" y="1392" width="66.5" height="14" fill="#9c9c9c" stroke="#6b3a10" stroke-width="1"/>
<rect x="176" y="1408" width="66.5" height="16.5" fill="#fb9a0a" stroke="#6b3a10" stroke-width="1"/>
<rect x="176" y="1547.6" width="66.5" height="9.7" fill="#fb9a0a" stroke="#6b3a10" stroke-width="1"/>
<rect x="176" y="1559" width="66.5" height="9" fill="#9c9c9c" stroke="#6b3a10" stroke-width="1"/>
<rect x="176" y="1570" width="66.5" height="16.3" fill="#fb9a0a" stroke="#6b3a10" stroke-width="1"/>
<rect x="176" y="1587.3" width="66.5" height="7.7" fill="#9c9c9c" stroke="#6b3a10" stroke-width="1"/>
<rect x="176" y="1596.6" width="66.5" height="40.1" fill="#fb9a0a" stroke="#6b3a10" stroke-width="1"/>
<text x="210.8" y="1053" font-size="15" text-anchor="middle" fill="#7a2e00" textLength="44" lengthAdjust="spacingAndGlyphs">Sand</text>
<text x="210.8" y="1096" font-size="15" text-anchor="middle" fill="#7a2e00" textLength="44" lengthAdjust="spacingAndGlyphs">Sand</text>
<text x="210.8" y="1136.5" font-size="15" text-anchor="middle" fill="#7a2e00" textLength="44" lengthAdjust="spacingAndGlyphs">Sand</text>
<text x="210.8" y="1217.5" font-size="15" text-anchor="middle" fill="#7a2e00" textLength="44" lengthAdjust="spacingAndGlyphs">Sand</text>
<text x="210.8" y="1263.5" font-size="15" text-anchor="middle" fill="#7a2e00" textLength="44" lengthAdjust="spacingAndGlyphs">Sand</text>
<text x="210.8" y="1306" font-size="15" text-anchor="middle" fill="#7a2e00" textLength="44" lengthAdjust="spacingAndGlyphs">Sand</text>
<text x="210.8" y="1421" font-size="15" text-anchor="middle" fill="#7a2e00" textLength="44" lengthAdjust="spacingAndGlyphs">Sand</text>
<text x="210.8" y="1583" font-size="15" text-anchor="middle" fill="#7a2e00" textLength="44" lengthAdjust="spacingAndGlyphs">Sand</text>
<text x="210.8" y="1620.5" font-size="15" text-anchor="middle" fill="#7a2e00" textLength="44" lengthAdjust="spacingAndGlyphs">Sand</text>
<g clip-path="url(#lc937)"><text transform="translate(214.2 1482) rotate(-90)" font-size="15" text-anchor="middle" fill="#e8e8e8" textLength="66" lengthAdjust="spacingAndGlyphs">InterlayerA</text></g>
<g clip-path="url(#lc937)"><text transform="translate(214.2 966) rotate(-90)" font-size="15" text-anchor="middle" fill="#e8e8e8" textLength="66" lengthAdjust="spacingAndGlyphs">InterlayerA</text></g>
<clipPath id="cp2"><polygon points="330.5,946 601.5,946 601.5,1689 330.5,1697"/></clipPath>
<g filter="url(#soft)"><g clip-path="url(#cp2)" shape-rendering="crispEdges">
<polygon points="330.5,946 601.5,946 601.5,1689 330.5,1697" fill="#313131"/>
<g transform="translate(330.5 946) scale(9 5)">
<path fill="#fe9802" d="M0 1h4v1h-4zM0 2h7v2h-7zM0 4h4v1h-4zM22 8h8v1h-8zM1 9h29v3h-29zM0 12h30v9h-30zM2 21h20v1h-20zM10 22h12v1h-12zM15 23h6v1h-6zM15 24h2v1h-2zM0 26h19v1h-19zM0 27h20v2h-20zM20 31h10v1h-10zM19 32h11v1h-11zM7 33h23v1h-23zM0 34h30v2h-30zM15 36h5v1h-5zM0 36h5v1h-5zM0 37h7v1h-7zM15 37h1v1h-1zM25 38h5v1h-5zM0 38h13v1h-13zM0 39h15v1h-15zM16 39h2v1h-2zM0 40h18v1h-18zM0 41h16v1h-16zM0 42h15v1h-15zM2 43h8v1h-8zM18 44h6v1h-6zM5 44h4v1h-4zM23 50h7v1h-7zM22 51h8v1h-8zM21 52h9v1h-9zM0 53h19v1h-19zM4 54h12v1h-12zM5 55h11v1h-11zM4 56h13v1h-13zM0 57h18v1h-18zM0 58h19v1h-19zM0 59h30v5h-30zM0 67h9v1h-9zM0 68h1v3h-1zM18 70h8v2h-8zM0 71h9v1h-9zM0 72h20v2h-20zM0 74h21v1h-21zM0 75h22v1h-22zM0 76h23v1h-23zM0 77h24v1h-24zM0 78h25v1h-25zM0 79h30v2h-30zM8 85h2v1h-2zM4 85h3v2h-3zM9 86h1v1h-1zM22 85h8v3h-8zM21 88h9v1h-9zM20 89h4v1h-4zM26 89h4v1h-4zM19 90h5v1h-5zM28 90h1v1h-1zM18 91h5v2h-5zM18 93h4v1h-4zM18 94h2v1h-2zM25 121h5v1h-5zM0 122h7v1h-7zM21 122h9v1h-9zM0 123h29v1h-29zM0 124h27v1h-27zM0 125h25v1h-25zM0 126h30v1h-30zM21 127h9v1h-9zM18 127h2v1h-2zM0 128h30v2h-30zM0 130h27v1h-27zM0 131h25v1h-25zM0 132h22v1h-22zM3 133h17v1h-17zM27 144h3v1h-3zM19 145h11v1h-11zM15 146h12v1h-12zM0 146h8v1h-8zM4 147h12v1h-12z"/>
<path fill="#cdcdcd" d="M0 9h1v3h-1zM0 25h18v1h-18zM24 29h6v2h-6zM0 32h9v1h-9zM0 33h7v1h-7zM19 53h11v1h-11zM0 54h4v1h-4zM16 54h14v2h-14zM0 55h5v1h-5zM17 56h13v1h-13zM0 56h4v1h-4zM18 57h12v1h-12zM19 58h11v1h-11zM1 68h8v2h-8zM0 81h30v4h-30zM7 85h1v1h-1zM0 85h4v1h-4zM3 86h1v1h-1zM7 86h2v1h-2zM10 85h12v3h-12zM10 88h1v1h-1zM23 142h1v1h-1zM19 143h11v1h-11zM0 144h6v1h-6zM10 144h17v1h-17zM0 145h18v1h-18z"/>
</g></g></g>
<clipPath id="cp3"><polygon points="674,946 935,946 935,1698 674,1706"/></clipPath>
<g filter="url(#soft)"><g clip-path="url(#cp3)" shape-rendering="crispEdges">
<polygon points="674,946 935,946 935,1698 674,1706" fill="#313131"/>
<g transform="translate(674 946) scale(9 5)">
<path fill="#fe9802" d="M26 8h3v1h-3zM20 9h9v1h-9zM0 9h7v2h-7zM19 10h10v1h-10zM0 11h29v9h-29zM0 20h24v1h-24zM0 21h20v1h-20zM0 22h11v1h-11zM0 23h10v1h-10zM23 33h6v1h-6zM16 34h13v1h-13zM0 35h8v1h-8zM13 35h16v1h-16zM0 36h29v5h-29zM0 41h25v1h-25zM0 42h17v1h-17zM21 42h8v2h-8zM10 43h7v1h-7zM11 44h9v1h-9zM10 49h8v1h-8zM9 50h10v1h-10zM0 51h27v1h-27zM0 52h8v1h-8zM9 52h20v1h-20zM11 53h18v1h-18zM0 53h6v2h-6zM9 54h20v1h-20zM0 55h29v1h-29zM0 56h1v1h-1zM16 56h13v1h-13zM4 57h22v1h-22zM0 58h25v1h-25zM27 58h2v1h-2zM0 59h29v6h-29zM0 67h29v5h-29zM14 72h15v1h-15zM25 79h2v1h-2zM24 80h5v1h-5zM0 81h29v3h-29zM0 84h27v2h-27zM0 86h12v1h-12zM17 86h12v1h-12zM0 87h29v3h-29zM28 90h1v1h-1zM0 90h22v1h-22zM0 91h17v1h-17zM1 92h12v1h-12zM2 93h6v1h-6zM27 124h2v1h-2zM24 125h5v1h-5zM0 126h29v2h-29zM0 128h28v1h-28zM0 129h24v1h-24zM0 130h19v1h-19zM27 130h2v1h-2zM0 131h14v1h-14zM23 131h6v1h-6zM0 132h12v1h-12zM18 132h9v1h-9zM0 133h25v1h-25zM0 134h21v1h-21zM0 135h19v1h-19zM23 136h1v1h-1zM4 136h15v1h-15zM0 137h24v2h-24zM0 139h21v1h-21zM0 149h2v2h-2z"/>
<path fill="#cdcdcd" d="M28 29h1v2h-1zM27 50h2v2h-2zM1 56h15v1h-15zM0 57h4v1h-4zM26 57h3v1h-3zM25 58h2v1h-2zM0 72h8v3h-8zM27 84h2v2h-2zM12 86h5v1h-5zM22 90h4v1h-4zM17 91h8v1h-8zM27 123h2v1h-2zM25 124h2v1h-2zM22 125h2v1h-2zM28 128h1v1h-1zM24 129h5v1h-5zM19 130h8v1h-8zM14 131h9v1h-9zM12 132h6v1h-6zM27 140h2v2h-2zM23 141h2v1h-2zM21 142h4v1h-4zM9 143h14v1h-14zM2 144h19v1h-19zM0 145h7v1h-7zM19 145h1v1h-1z"/>
</g></g></g>
<clipPath id="cp4"><polygon points="1007.5,946 1272.5,946 1272.5,1700 1007.5,1708"/></clipPath>
<g filter="url(#soft)"><g clip-path="url(#cp4)" shape-rendering="crispEdges">
<polygon points="1007.5,946 1272.5,946 1272.5,1700 1007.5,1708" fill="#313131"/>
<g transform="translate(1007.5 946) scale(9 5)">
<path fill="#fe9802" d="M27 11h3v1h-3zM0 11h1v2h-1zM20 12h10v1h-10zM19 13h11v1h-11zM0 13h2v2h-2zM8 14h22v1h-22zM0 15h30v5h-30zM0 20h29v1h-29zM0 21h26v1h-26zM0 22h23v1h-23zM0 23h22v2h-22zM0 25h24v1h-24zM6 26h17v1h-17zM28 26h2v1h-2zM26 27h4v2h-4zM0 27h23v2h-23zM0 29h27v2h-27zM5 31h25v1h-25zM6 32h24v2h-24zM0 34h30v2h-30zM27 36h3v1h-3zM0 36h20v1h-20zM0 37h18v1h-18zM10 38h8v1h-8zM0 38h5v1h-5zM18 39h3v1h-3zM11 39h5v1h-5zM25 42h5v2h-5zM22 44h8v1h-8zM23 45h7v1h-7zM27 50h3v2h-3zM0 51h20v1h-20zM0 52h30v3h-30zM1 55h28v1h-28zM1 56h5v1h-5zM0 57h5v1h-5zM0 58h6v1h-6zM0 59h7v1h-7zM22 59h8v1h-8zM0 60h10v1h-10zM19 60h11v1h-11zM0 61h30v3h-30zM0 64h12v1h-12zM16 64h14v1h-14zM0 65h10v1h-10zM0 67h21v1h-21zM0 68h22v1h-22zM0 69h30v3h-30zM0 72h18v2h-18zM0 74h16v1h-16zM0 75h12v1h-12zM7 76h1v1h-1zM16 86h11v1h-11zM13 87h17v2h-17zM22 89h8v1h-8zM0 86h5v5h-5zM12 89h2v2h-2zM23 90h7v1h-7zM25 91h5v1h-5zM0 91h20v1h-20zM0 92h23v2h-23zM0 94h21v1h-21zM21 110h2v2h-2zM16 118h1v2h-1zM25 120h2v1h-2zM22 121h5v1h-5zM0 122h27v1h-27zM0 123h30v3h-30zM4 126h26v6h-26zM0 132h30v3h-30zM0 135h26v1h-26zM3 136h20v1h-20zM12 137h8v1h-8z"/>
<path fill="#cdcdcd" d="M27 29h3v2h-3zM0 31h5v1h-5zM0 32h6v2h-6zM23 46h7v2h-7zM25 48h5v1h-5zM29 55h1v1h-1zM0 55h1v2h-1zM6 56h24v1h-24zM5 57h25v1h-25zM6 58h24v1h-24zM7 59h15v1h-15zM10 60h9v1h-9zM16 74h5v1h-5zM12 75h10v1h-10zM8 76h15v1h-15zM2 76h3v1h-3zM7 77h16v1h-16zM1 77h5v1h-5zM0 78h23v1h-23zM0 79h22v2h-22zM0 81h30v5h-30zM27 86h3v1h-3zM5 86h11v1h-11zM5 87h8v2h-8zM14 89h8v1h-8zM5 89h7v2h-7zM14 90h9v1h-9zM20 91h3v1h-3zM0 117h2v1h-2zM25 117h5v1h-5zM17 118h13v1h-13zM0 118h16v2h-16zM17 119h10v1h-10zM0 120h25v1h-25zM0 121h22v1h-22zM27 141h3v1h-3zM22 142h6v1h-6zM23 143h1v1h-1zM0 144h20v1h-20zM22 147h8v1h-8zM6 148h19v1h-19zM0 149h1v1h-1zM6 149h1v1h-1z"/>
</g></g></g>
<clipPath id="cp5"><polygon points="1345.5,946 1631.5,946 1631.5,1695 1345.5,1703"/></clipPath>
<g filter="url(#soft)"><g clip-path="url(#cp5)" shape-rendering="crispEdges">
<polygon points="1345.5,946 1631.5,946 1631.5,1695 1345.5,1703" fill="#313131"/>
<g transform="translate(1345.5 946) scale(9 5)">
<path fill="#fe9802" d="M26 9h6v1h-6zM19 10h13v1h-13zM0 11h9v1h-9zM10 11h22v1h-22zM0 12h32v10h-32zM0 22h27v1h-27zM0 23h26v1h-26zM0 24h24v1h-24zM13 25h9v1h-9zM3 25h8v1h-8zM0 26h9v1h-9zM0 27h8v1h-8zM0 28h5v1h-5zM27 30h2v1h-2zM25 31h7v1h-7zM5 32h14v1h-14zM24 32h8v1h-8zM5 33h27v1h-27zM0 34h32v9h-32zM0 43h25v1h-25zM0 44h2v1h-2zM20 44h5v1h-5zM7 44h6v1h-6zM0 45h1v1h-1zM9 54h15v1h-15zM0 55h26v2h-26zM28 56h4v1h-4zM0 57h32v1h-32zM0 58h2v1h-2zM9 58h7v1h-7zM22 58h10v2h-10zM9 59h2v1h-2zM0 59h1v2h-1zM7 60h3v1h-3zM26 60h6v2h-6zM0 61h12v1h-12zM0 62h13v1h-13zM25 62h7v2h-7zM0 63h12v1h-12zM25 64h4v1h-4zM0 64h5v1h-5zM0 67h11v1h-11zM0 68h15v2h-15zM0 70h13v1h-13zM18 70h8v2h-8zM5 71h6v2h-6zM1 73h14v2h-14zM23 74h3v1h-3zM0 75h15v5h-15zM0 80h3v1h-3zM9 80h6v1h-6zM16 74h6v8h-6zM28 77h4v5h-4zM0 81h2v1h-2zM11 81h4v1h-4zM10 82h5v1h-5zM16 82h4v1h-4zM11 83h4v1h-4zM16 83h3v1h-3zM30 86h2v1h-2zM25 87h7v2h-7zM22 89h10v2h-10zM22 91h4v1h-4zM22 92h3v2h-3zM0 113h5v1h-5zM0 114h4v1h-4zM30 116h2v1h-2zM26 117h6v1h-6zM23 118h9v1h-9zM21 119h11v1h-11zM20 120h12v1h-12zM4 121h26v1h-26zM0 122h32v4h-32zM11 126h21v1h-21zM0 126h5v1h-5zM0 127h32v3h-32zM3 130h29v1h-29zM20 131h12v1h-12zM5 131h11v1h-11zM23 132h2v1h-2zM7 132h7v1h-7zM25 135h7v1h-7zM12 136h20v1h-20zM7 137h22v1h-22zM7 138h18v1h-18zM8 139h13v1h-13zM30 142h2v2h-2z"/>
<path fill="#cdcdcd" d="M27 8h5v1h-5zM0 6h4v4h-4zM19 9h7v1h-7zM13 10h6v1h-6zM29 29h3v2h-3zM13 44h7v1h-7zM2 44h5v1h-5zM25 52h7v1h-7zM9 53h23v1h-23zM24 54h8v1h-8zM26 55h6v1h-6zM26 56h2v1h-2zM2 58h7v1h-7zM16 58h6v1h-6zM11 59h11v1h-11zM1 59h8v1h-8zM1 60h6v1h-6zM3 80h6v1h-6zM2 81h7v1h-7zM25 82h7v1h-7zM20 82h3v1h-3zM0 82h9v1h-9zM0 83h11v1h-11zM19 83h13v1h-13zM3 84h29v1h-29zM0 84h2v2h-2zM28 85h4v1h-4zM3 85h19v1h-19zM25 85h1v1h-1zM4 86h18v1h-18zM6 87h16v1h-16zM0 110h5v2h-5zM0 112h4v1h-4zM30 121h2v1h-2zM5 126h6v1h-6zM0 144h4v1h-4zM25 144h1v1h-1zM21 145h8v1h-8zM0 145h15v1h-15zM17 146h12v1h-12zM17 147h2v1h-2z"/>
</g></g></g>
<clipPath id="cp6"><polygon points="1700.5,946 1960.5,946 1960.5,1699 1700.5,1707"/></clipPath>
<g filter="url(#soft)"><g clip-path="url(#cp6)" shape-rendering="crispEdges">
<polygon points="1700.5,946 1960.5,946 1960.5,1699 1700.5,1707" fill="#313131"/>
<g transform="translate(1700.5 946) scale(9 5)">
<path fill="#fe9802" d="M23 10h6v1h-6zM0 11h8v1h-8zM19 11h10v1h-10zM0 12h29v7h-29zM17 19h12v3h-12zM18 22h6v1h-6zM28 25h1v1h-1zM26 26h3v1h-3zM24 27h5v1h-5zM23 28h6v1h-6zM24 29h5v1h-5zM21 32h8v1h-8zM0 33h29v7h-29zM0 40h19v1h-19zM0 41h18v1h-18zM0 42h23v1h-23zM13 43h6v1h-6zM14 44h4v1h-4zM15 45h2v1h-2zM25 47h4v1h-4zM18 48h11v1h-11zM8 49h21v2h-21zM12 51h8v1h-8zM12 52h5v1h-5zM25 53h4v1h-4zM9 54h20v1h-20zM0 55h29v6h-29zM0 61h26v2h-26zM0 63h29v1h-29zM6 66h2v1h-2zM4 67h4v2h-4zM4 69h8v1h-8zM6 70h8v1h-8zM11 71h4v1h-4zM24 77h3v1h-3zM0 77h23v1h-23zM0 78h28v2h-28zM0 80h29v4h-29zM9 84h10v1h-10zM10 85h9v1h-9zM18 86h1v2h-1zM0 89h29v2h-29zM0 91h24v1h-24zM1 92h23v1h-23zM24 116h5v1h-5zM19 117h10v1h-10zM0 118h29v3h-29zM0 121h25v1h-25zM0 122h12v2h-12zM25 123h4v1h-4zM0 124h8v1h-8zM13 124h8v1h-8zM24 124h5v1h-5zM0 125h23v1h-23zM0 126h21v1h-21zM24 127h5v1h-5zM0 127h23v1h-23zM0 128h29v4h-29zM0 132h28v1h-28zM0 133h26v1h-26zM2 134h10v1h-10zM27 138h2v1h-2zM23 139h6v1h-6zM20 140h6v1h-6zM17 141h6v1h-6zM18 142h1v1h-1z"/>
<path fill="#cdcdcd" d="M22 30h7v1h-7zM15 31h14v1h-14zM15 32h6v1h-6zM27 51h2v1h-2zM25 52h4v1h-4zM18 53h7v1h-7zM6 53h6v1h-6zM6 54h1v1h-1zM26 61h3v2h-3zM0 73h4v1h-4zM0 74h6v1h-6zM0 75h4v1h-4zM1 76h3v1h-3zM19 84h10v3h-10zM10 86h8v2h-8zM26 142h3v1h-3zM22 143h7v1h-7zM17 144h12v1h-12zM15 145h14v3h-14zM0 147h12v1h-12zM17 148h12v1h-12z"/>
</g></g></g>
<polyline points="175,943.3 500,946.5 2082,946.5" fill="none" stroke="#1787b4" stroke-width="3" stroke-dasharray="17 10"/>
<polyline points="175,1065.8 500,1069 2082,1069" fill="none" stroke="#1787b4" stroke-width="3" stroke-dasharray="17 10"/>
<polyline points="175,1174.8 500,1178 2082,1178" fill="none" stroke="#1787b4" stroke-width="3" stroke-dasharray="17 10"/>
<polyline points="175,1269.3 500,1272.5 2082,1272.5" fill="none" stroke="#1787b4" stroke-width="3" stroke-dasharray="17 10"/>
<polyline points="175,1427.8 500,1431 2082,1431" fill="none" stroke="#1787b4" stroke-width="3" stroke-dasharray="17 10"/>
<polyline points="175,1516.8 500,1520 2082,1520" fill="none" stroke="#1787b4" stroke-width="3" stroke-dasharray="17 10"/>
<polyline points="175,1630.8 500,1634 2082,1634" fill="none" stroke="#1787b4" stroke-width="3" stroke-dasharray="17 10"/>
<polyline points="175,1701.8 500,1705 2082,1705" fill="none" stroke="#1787b4" stroke-width="3" stroke-dasharray="17 10"/>
<line x1="284" y1="860" x2="284" y2="1702" stroke="#00c2ca" stroke-width="4.6"/>
<circle cx="283.6" cy="838.2" r="25.3" fill="#fff" stroke="#00c2ca" stroke-width="5.8"/>
<path d="M258.6 838.2H308.6M283.6 813.2V863.2" stroke="#00c2ca" stroke-width="3.4" fill="none"/>
<circle cx="284" cy="943.5" r="16" fill="#00c2ca"/>
<circle cx="284" cy="1066.3" r="16" fill="#00c2ca"/>
<circle cx="284" cy="1174" r="16" fill="#00c2ca"/>
<circle cx="284" cy="1269" r="16" fill="#00c2ca"/>
<circle cx="284" cy="1426.5" r="16" fill="#00c2ca"/>
<circle cx="284" cy="1516.6" r="16" fill="#00c2ca"/>
<circle cx="284" cy="1630" r="16" fill="#00c2ca"/>
<circle cx="284" cy="1701" r="16" fill="#00c2ca"/>
<text x="288" y="791" font-size="44" text-anchor="middle" fill="#111">A</text>
<line x1="465" y1="860" x2="465" y2="1696" stroke="#00c2ca" stroke-width="12"/>
<line x1="465" y1="1711" x2="465" y2="1746" stroke="#00c2ca" stroke-width="12"/>
<circle cx="465" cy="838.3" r="30.5" fill="#00c2ca"/>
<path d="M459.5 821.7A17.5 17.5 0 0 0 448.4 832.8H459.5Z M470.5 821.7A17.5 17.5 0 0 1 481.6 832.8H470.5Z M459.5 854.9A17.5 17.5 0 0 1 448.4 843.8H459.5Z M470.5 854.9A17.5 17.5 0 0 0 481.6 843.8H470.5Z" fill="#b4f6f8"/>
<circle cx="465" cy="951" r="12.8" fill="#fff"/>
<circle cx="465" cy="1069" r="12.8" fill="#fff"/>
<circle cx="465" cy="1179" r="12.8" fill="#fff"/>
<circle cx="465" cy="1275" r="12.8" fill="#fff"/>
<circle cx="465" cy="1420.8" r="12.8" fill="#fff"/>
<circle cx="465" cy="1517" r="12.8" fill="#fff"/>
<circle cx="465" cy="1626.5" r="12.8" fill="#fff"/>
<circle cx="465" cy="1697.3" r="12.8" fill="#fff"/>
<text x="472.5" y="790.8" font-size="44" text-anchor="middle" fill="#111" letter-spacing="2">A1</text>
<line x1="802.5" y1="860" x2="802.5" y2="1705" stroke="#00c2ca" stroke-width="12"/>
<line x1="802.5" y1="1711" x2="802.5" y2="1746" stroke="#00c2ca" stroke-width="12"/>
<circle cx="802.5" cy="838.3" r="30.5" fill="#00c2ca"/>
<path d="M797 821.7A17.5 17.5 0 0 0 785.9 832.8H797Z M808 821.7A17.5 17.5 0 0 1 819.1 832.8H808Z M797 854.9A17.5 17.5 0 0 1 785.9 843.8H797Z M808 854.9A17.5 17.5 0 0 0 819.1 843.8H808Z" fill="#b4f6f8"/>
<circle cx="802.5" cy="951" r="12.8" fill="#fff"/>
<circle cx="802.5" cy="1069" r="12.8" fill="#fff"/>
<circle cx="802.5" cy="1179" r="12.8" fill="#fff"/>
<circle cx="802.5" cy="1275" r="12.8" fill="#fff"/>
<circle cx="802.5" cy="1420.8" r="12.8" fill="#fff"/>
<circle cx="802.5" cy="1517" r="12.8" fill="#fff"/>
<circle cx="802.5" cy="1626.5" r="12.8" fill="#fff"/>
<circle cx="802.5" cy="1697.3" r="12.8" fill="#fff"/>
<text x="812" y="790.8" font-size="44" text-anchor="middle" fill="#111" letter-spacing="2">A2</text>
<line x1="1121.5" y1="860" x2="1121.5" y2="1707" stroke="#00c2ca" stroke-width="12"/>
<line x1="1121.5" y1="1711" x2="1121.5" y2="1746" stroke="#00c2ca" stroke-width="12"/>
<circle cx="1121.5" cy="838.3" r="30.5" fill="#00c2ca"/>
<path d="M1116 821.7A17.5 17.5 0 0 0 1104.9 832.8H1116Z M1127 821.7A17.5 17.5 0 0 1 1138.1 832.8H1127Z M1116 854.9A17.5 17.5 0 0 1 1104.9 843.8H1116Z M1127 854.9A17.5 17.5 0 0 0 1138.1 843.8H1127Z" fill="#b4f6f8"/>
<circle cx="1121.5" cy="951" r="12.8" fill="#fff"/>
<circle cx="1121.5" cy="1069" r="12.8" fill="#fff"/>
<circle cx="1121.5" cy="1179" r="12.8" fill="#fff"/>
<circle cx="1121.5" cy="1275" r="12.8" fill="#fff"/>
<circle cx="1121.5" cy="1420.8" r="12.8" fill="#fff"/>
<circle cx="1121.5" cy="1517" r="12.8" fill="#fff"/>
<circle cx="1121.5" cy="1626.5" r="12.8" fill="#fff"/>
<circle cx="1121.5" cy="1697.3" r="12.8" fill="#fff"/>
<text x="1131" y="790.8" font-size="44" text-anchor="middle" fill="#111" letter-spacing="2">A3</text>
<line x1="1485.5" y1="860" x2="1485.5" y2="1702" stroke="#00c2ca" stroke-width="12"/>
<line x1="1485.5" y1="1711" x2="1485.5" y2="1746" stroke="#00c2ca" stroke-width="12"/>
<circle cx="1485.5" cy="838.3" r="30.5" fill="#00c2ca"/>
<path d="M1480 821.7A17.5 17.5 0 0 0 1468.9 832.8H1480Z M1491 821.7A17.5 17.5 0 0 1 1502.1 832.8H1491Z M1480 854.9A17.5 17.5 0 0 1 1468.9 843.8H1480Z M1491 854.9A17.5 17.5 0 0 0 1502.1 843.8H1491Z" fill="#b4f6f8"/>
<circle cx="1485.5" cy="951" r="12.8" fill="#fff"/>
<circle cx="1485.5" cy="1069" r="12.8" fill="#fff"/>
<circle cx="1485.5" cy="1179" r="12.8" fill="#fff"/>
<circle cx="1485.5" cy="1275" r="12.8" fill="#fff"/>
<circle cx="1485.5" cy="1420.8" r="12.8" fill="#fff"/>
<circle cx="1485.5" cy="1517" r="12.8" fill="#fff"/>
<circle cx="1485.5" cy="1626.5" r="12.8" fill="#fff"/>
<circle cx="1485.5" cy="1697.3" r="12.8" fill="#fff"/>
<text x="1494" y="790.8" font-size="44" text-anchor="middle" fill="#111" letter-spacing="2">A4</text>
<line x1="1831" y1="860" x2="1831" y2="1706" stroke="#00c2ca" stroke-width="12"/>
<line x1="1831" y1="1711" x2="1831" y2="1746" stroke="#00c2ca" stroke-width="12"/>
<circle cx="1831" cy="838.3" r="30.5" fill="#00c2ca"/>
<path d="M1825.5 821.7A17.5 17.5 0 0 0 1814.4 832.8H1825.5Z M1836.5 821.7A17.5 17.5 0 0 1 1847.6 832.8H1836.5Z M1825.5 854.9A17.5 17.5 0 0 1 1814.4 843.8H1825.5Z M1836.5 854.9A17.5 17.5 0 0 0 1847.6 843.8H1836.5Z" fill="#b4f6f8"/>
<circle cx="1831" cy="951" r="12.8" fill="#fff"/>
<circle cx="1831" cy="1069" r="12.8" fill="#fff"/>
<circle cx="1831" cy="1179" r="12.8" fill="#fff"/>
<circle cx="1831" cy="1275" r="12.8" fill="#fff"/>
<circle cx="1831" cy="1420.8" r="12.8" fill="#fff"/>
<circle cx="1831" cy="1517" r="12.8" fill="#fff"/>
<circle cx="1831" cy="1626.5" r="12.8" fill="#fff"/>
<circle cx="1831" cy="1697.3" r="12.8" fill="#fff"/>
<text x="1840.5" y="790.8" font-size="44" text-anchor="middle" fill="#111" letter-spacing="2">A5</text>
<text x="2021.5" y="941" font-size="37" text-anchor="middle" fill="#1a1a1a" letter-spacing="3">H7</text>
<text x="2021.5" y="1062" font-size="37" text-anchor="middle" fill="#1a1a1a" letter-spacing="3">H8S1</text>
<text x="2021.5" y="1171.5" font-size="37" text-anchor="middle" fill="#1a1a1a" letter-spacing="3">H8S2</text>
<text x="2021.5" y="1263" font-size="37" text-anchor="middle" fill="#1a1a1a" letter-spacing="3">H8X1</text>
<text x="2021.5" y="1423" font-size="37" text-anchor="middle" fill="#1a1a1a" letter-spacing="3">H8X2</text>
<text x="2021.5" y="1513" font-size="37" text-anchor="middle" fill="#1a1a1a" letter-spacing="3">S11</text>
<text x="2021.5" y="1626" font-size="37" text-anchor="middle" fill="#1a1a1a" letter-spacing="3">S12</text>
<text x="2021.5" y="1698" font-size="37" text-anchor="middle" fill="#1a1a1a" letter-spacing="3">S13</text>
<rect x="1990.1" y="771.2" width="8.2" height="8.2" fill="#111"/>
<rect x="2018.3" y="771.2" width="8.2" height="8.2" fill="#111"/>
<rect x="2046.3" y="771.2" width="8.2" height="8.2" fill="#111"/>
<rect x="1990.1" y="1320.9" width="8.2" height="8.2" fill="#111"/>
<rect x="2018.3" y="1320.9" width="8.2" height="8.2" fill="#111"/>
<rect x="2046.3" y="1320.9" width="8.2" height="8.2" fill="#111"/>
<rect x="17.5" y="1715.5" width="67" height="55" fill="#fff" stroke="#333" stroke-width="1.6"/>
<text x="51" y="1759" font-size="46" text-anchor="middle" fill="#222">c</text>
</g>
<g id="panel-d">
<text x="92" y="1920" font-size="37" text-anchor="middle" fill="#222" letter-spacing="3.5">GR</text>
<path d="M16 1927.6H171M16 1923.6v8M171 1923.6v8" stroke="#222" stroke-width="2.1" fill="none"/>
<text x="15.5" y="1963.7" font-size="27.5" fill="#333" textLength="161" lengthAdjust="spacing">0 (API) 200</text>
<path d="M146.2 1979.4L129.5 1985.9Q124 1988.1 121.3 1989.3L116 1991.7Q113.3 1992.9 116 1994.1L121.3 1996.6Q124 1997.8 127.6 1999.2L134.9 2002.1Q138.5 2003.6 134.9 2004.3L127.6 2005.8Q124 2006.5 123 2007.5L121.1 2009.4Q120.1 2010.4 121.1 2011.3L123 2013.3Q124 2014.2 120.1 2015L112.3 2016.4Q108.5 2017.1 105.6 2018.4L99.8 2020.8Q96.9 2022 94.4 2023L89.6 2024.9Q87.2 2025.9 88.1 2026.8L90.1 2028.8Q91 2029.7 93.5 2030.6L98.3 2032.3Q100.7 2033.2 96.9 2034L89.1 2035.7Q85.2 2036.5 83.3 2037.2L79.4 2038.7Q77.5 2039.4 78.9 2040.4L81.8 2042.3Q83.3 2043.3 78.5 2044.3L68.8 2046.2Q63.9 2047.2 58.6 2047.7L47.9 2048.6Q42.6 2049.1 45 2050.6L49.9 2053.5Q52.3 2054.9 48.9 2056.1L42.1 2058.5Q38.7 2059.8 37.3 2061L34.4 2063.4Q32.9 2064.6 36.3 2065.3L43.1 2066.8Q46.5 2067.5 49.9 2068.2L56.7 2069.7Q60 2070.4 58.6 2071.9L55.7 2074.8Q54.2 2076.2 52.8 2078.2L49.9 2082Q48.4 2084 52.3 2084.9L60 2086.9Q63.9 2087.8 67.6 2088.6L74.8 2090Q78.5 2090.8 75.8 2091.5L70.5 2092.9Q67.8 2093.7 71.2 2094.4L78 2095.8Q81.4 2096.6 88.1 2097L101.7 2098Q108.5 2098.5 107.7 2100L106.3 2102.9Q105.6 2104.3 104.1 2105.5L101.2 2107.9Q99.8 2109.2 101 2110.6L103.4 2113.5Q104.6 2115 106.8 2115.9L111.1 2117.9Q113.3 2118.8 104.4 2119.6L86.4 2121Q77.5 2121.7 69.2 2122.5L52.8 2123.9Q44.6 2124.6 49.4 2125.6L59.1 2127.6Q63.9 2128.5 70 2130.2L82.1 2133.6Q88.1 2135.3 80.6 2136.8L65.6 2139.7Q58.1 2141.1 51.3 2142.8L37.8 2146.2Q31 2147.9 34.9 2148.9L42.6 2150.8Q46.5 2151.8 53.8 2152.5L68.3 2153.9Q75.5 2154.7 71.2 2155.9L62.5 2158.3Q58.1 2159.5 50.8 2161L36.3 2163.9Q29.1 2165.3 25.4 2166.5L18.2 2169Q14.5 2170.2 14.5 2171.6L14.5 2174.5Q14.5 2176 18.2 2177.7L25.4 2181.1Q29.1 2182.8 36.3 2183.5L50.8 2184.9Q58.1 2185.7 67.8 2186.4L87.2 2187.8Q96.9 2188.6 103.6 2189.5L117.2 2191.5Q124 2192.4 130.3 2193L142.9 2194.2Q149.2 2194.8 139 2195.4L118.6 2196.7Q108.5 2197.3 95.9 2197.8L70.7 2198.7Q58.1 2199.2 51.8 2199.7L39.2 2200.7Q32.9 2201.2 44.1 2202L66.3 2203.6Q77.5 2204.5 86 2205.1L102.9 2206.3Q111.4 2207 102.9 2207.5L86 2208.4Q77.5 2208.9 65.4 2209.6L41.2 2211.1Q29.1 2211.8 24.9 2213.3L16.7 2216.2Q12.6 2217.6 14.3 2218.8L17.7 2221.3Q19.4 2222.5 26.6 2223L41.2 2223.9Q48.4 2224.4 52.3 2224.9L60 2225.9Q63.9 2226.3 57.6 2227.3L45 2229.2Q38.7 2230.2 34.9 2230.9L27.1 2232.4Q23.2 2233.1 29.1 2233.8L40.7 2235.3Q46.5 2236 50.4 2236.8L58.1 2238.2Q62 2238.9 56.2 2239.7L44.6 2241.1Q38.7 2241.8 35.4 2243.1L28.6 2245.5Q25.2 2246.7 22.8 2249.1L17.9 2253.9Q15.5 2256.4 15.3 2258.3L14.8 2262.2Q14.5 2264.1 15.7 2265.1L18.2 2267Q19.4 2268 23.2 2268.7L31 2270.2Q34.9 2270.9 35.8 2272.6L37.8 2276Q38.7 2277.7 42.6 2278.6L50.4 2280.6Q54.2 2281.5 57.6 2282L64.4 2283Q67.8 2283.5 65.9 2284.9L62 2287.8Q60 2289.3 57.1 2290L51.3 2291.5Q48.4 2292.2 44.8 2293.2L37.5 2295.1Q33.9 2296.1 37 2296.8L43.3 2298.3Q46.5 2299 48.9 2299.4L53.8 2300.1Q56.2 2300.5 51.8 2301.4L43.1 2303Q38.7 2303.8 34.9 2305.5L27.1 2308.9Q23.2 2310.6 24.7 2311.3L27.6 2312.8Q29.1 2313.5 36.3 2313.8L50.8 2314.5Q58.1 2314.9 67.8 2315.2L87.2 2315.7Q96.9 2316 101.7 2316.6L111.4 2317.8Q116.2 2318.4 118.2 2319.8L122 2322.7Q124 2324.2 127.6 2324.7L134.9 2325.9Q138.5 2326.5 134.9 2327.1L127.6 2328.4Q124 2329 122 2330L118.2 2331.9Q116.2 2332.9 114.3 2334.1L110.4 2336.5Q108.5 2337.7 102.7 2338.5L91 2339.9Q85.2 2340.6 79.9 2341.4L69.2 2342.8Q63.9 2343.5 67.3 2344.5L74.1 2346.4Q77.5 2347.4 75.5 2348.4L71.7 2350.3Q69.7 2351.3 63.9 2351.8L52.3 2352.7Q46.5 2353.2 44.1 2353.9L39.2 2355.4Q36.8 2356.1 35.6 2357.3L33.2 2359.8Q32 2361 33.2 2362.2L35.6 2364.6Q36.8 2365.8 39.7 2366.5L45.5 2368Q48.4 2368.7 48 2369.3L47.2 2370.4Q46.8 2371 50.2 2372.7L57 2376.1Q60.4 2377.8 56.5 2378.5L48.7 2380Q44.8 2380.7 41.4 2381.4L34.6 2382.9Q31.2 2383.6 35.1 2384.4L42.9 2385.8Q46.8 2386.6 52.4 2387.3L63.6 2388.8Q69.2 2389.5 64.1 2390.7L53.8 2393.1Q48.7 2394.4 42.9 2395.1L31.2 2396.6Q25.3 2397.3 23.9 2398.7L20.9 2401.7Q19.5 2403.1 20.9 2404.6L23.9 2407.5Q25.3 2409 27.8 2409.9L32.6 2411.9Q35.1 2412.9 33.1 2413.8L29.2 2415.8Q27.3 2416.8 30.2 2417.5L36 2419Q39 2419.7 43.4 2420.4L52.1 2421.9Q56.5 2422.6 58.5 2423.6L62.4 2425.5Q64.3 2426.5 61.9 2427.5L57 2429.4Q54.6 2430.4 51.6 2430.9L45.8 2431.9Q42.9 2432.4 42.6 2433.8L42.1 2436.7Q41.9 2438.2 38.7 2438.9L32.4 2440.4Q29.2 2441.1 27.5 2442.1L24.1 2444Q22.4 2445 24.1 2446.2L27.5 2448.7Q29.2 2449.9 34.1 2450.4L43.8 2451.4Q48.7 2451.8 53.1 2452.3L61.9 2453.3Q66.3 2453.8 62.4 2455L54.6 2457.4Q50.7 2458.7 54.1 2459.6L60.9 2461.6Q64.3 2462.6 67 2463L72.3 2464Q75 2464.5 71.9 2465.2L65.5 2466.7Q62.4 2467.4 66.7 2468.6L75.5 2471.1Q79.9 2472.3 74.5 2473L63.8 2474.5Q58.5 2475.2 53.6 2475.7L43.8 2476.7Q39 2477.2 38 2478.9L36 2482.3Q35.1 2484 31.2 2485L23.4 2486.9Q19.5 2487.9 20.9 2489.1L23.9 2491.5Q25.3 2492.8 33.6 2493.3L50.2 2494.2Q58.5 2494.7 69.7 2495.4L92.1 2496.9Q103.3 2497.6 97.9 2498.1L87.2 2499.1Q81.8 2499.6 78.9 2500.3L73.1 2501.8Q70.2 2502.5 73.6 2503.5L80.4 2505.4Q83.8 2506.4 85.3 2508.1L88.2 2511.5Q89.6 2513.2 92.6 2514.2L98.4 2516.1Q101.3 2517.1 95.5 2517.6L83.8 2518.6Q77.9 2519.1 73.1 2519.8L63.3 2521.3Q58.5 2522 58.9 2523.9L59.9 2527.8Q60.4 2529.8 61.6 2532.2L64.1 2537.1Q65.3 2539.5 58.7 2540.5L45.5 2542.5Q39 2543.4 34.1 2544.4L24.4 2546.4Q19.5 2547.3 21.4 2548.5L25.3 2551Q27.3 2552.2 32.6 2553.7L43.4 2556.6Q48.7 2558 55 2559.3L67.7 2561.7Q74 2562.9 82.8 2563L100.4 2563.2Q109.1 2563.3 115 2563.7L126.7 2564.5Q132.5 2564.9 131 2567.3L128.1 2572.2Q126.7 2574.6 125.2 2576.6L122.3 2580.5Q120.8 2582.4 117.4 2583.4L110.6 2585.3Q107.2 2586.3 107.7 2587.3L108.6 2589.2Q109.1 2590.2 111.1 2591.2L115 2593.1Q116.9 2594.1 116.9 2596.3L116.9 2600.7Q116.9 2602.9 107.2 2603.3L87.7 2604.3Q77.9 2604.8 68.2 2605.5L48.7 2607Q39 2607.7 31.7 2609.2L17.1 2612.1Q9.7 2613.6 13.6 2614.8L21.4 2617.2Q25.3 2618.5 33.6 2618.9L50.2 2619.9Q58.5 2620.4 68.2 2620.9L87.7 2621.9Q97.4 2622.3 101.3 2622.8L109.1 2623.8Q113 2624.3 114 2626L115.9 2629.4Q116.9 2631.1 121.8 2632.3L131.5 2634.8Q136.4 2636 136.4 2637L136.4 2638.9Q136.4 2639.9 131.5 2640.4L121.8 2641.3Q116.9 2641.8 114.2 2642.6L108.9 2644Q106.2 2644.8 107.9 2645.7L111.3 2647.7Q113 2648.7 115 2649.4L118.9 2650.8Q120.8 2651.6 119.4 2652.8L116.4 2655.2Q115 2656.4 115.9 2657.7L117.9 2660.1Q118.9 2661.3 112.5 2661.6L99.9 2662.1Q93.5 2662.3 94.5 2663.3L96.5 2665.2Q97.4 2666.2 103.3 2666.9L115 2668.4Q120.8 2669.1 118.9 2670.3L115 2672.8Q113 2674 111.8 2675.9L109.4 2679.8Q108.1 2681.8 106.4 2682.3L103 2683.2Q101.3 2683.7 102.8 2685.7L105.7 2689.6Q107.2 2691.5 106.9 2694L106.4 2698.8Q106.2 2701.3 104.3 2702.5L100.4 2704.9Q98.4 2706.1 100.1 2708.3L103.5 2712.7Q105.2 2714.9 107.2 2715.9L111.1 2717.8Q113 2718.8 116.9 2719.5L124.7 2721Q128.6 2721.7 125.7 2722.9L119.8 2725.4Q116.9 2726.6 116.9 2728.3L116.9 2731.7Q116.9 2733.4 112 2734.2L102.3 2735.6Q97.4 2736.3 89.9 2737.8L74.8 2740.7Q67.2 2742.2 69.9 2742.9L75.3 2744.4Q77.9 2745.1 85.7 2745.8L101.3 2747.3Q109.1 2748 113 2749.7L120.8 2753.2Q124.7 2754.9 129.3 2756.1L138.6 2758.5Q143.2 2759.7 138.6 2760.5L129.3 2761.9Q124.7 2762.6 117.9 2763.9L104.3 2766.3Q97.4 2767.5 87.2 2769.7L66.7 2774.1Q56.5 2776.3 58.5 2777.5L62.4 2779.9Q64.3 2781.2 72.6 2781.9L89.2 2783.4Q97.4 2784.1 102.3 2784.8L112 2786.3Q116.9 2787 120.1 2788.2L126.4 2790.7Q129.6 2791.9 127.9 2792.6L124.5 2794.1Q122.8 2794.8 119.4 2795L109.1 2795.8" fill="none" stroke="#1a1a1a" stroke-width="1.7" stroke-linejoin="round" stroke-linecap="round"/>
<clipPath id="lc1979"><rect x="172.3" y="1979.4" width="69.9" height="818.3"/></clipPath>
<rect x="172.3" y="1979.4" width="69.9" height="818.3" fill="#2f2f2f"/>
<rect x="174.3" y="2049" width="65.9" height="38" fill="#fb9a0a" stroke="#6b3a10" stroke-width="1"/>
<rect x="174.3" y="2125.5" width="65.9" height="28" fill="#fb9a0a" stroke="#6b3a10" stroke-width="1"/>
<rect x="174.3" y="2155.3" width="65.9" height="7.1" fill="#9c9c9c" stroke="#6b3a10" stroke-width="1"/>
<rect x="174.3" y="2164" width="65.9" height="22.5" fill="#fb9a0a" stroke="#6b3a10" stroke-width="1"/>
<rect x="174.3" y="2213" width="65.9" height="9.3" fill="#fb9a0a" stroke="#6b3a10" stroke-width="1"/>
<rect x="174.3" y="2224" width="65.9" height="18.6" fill="#9c9c9c" stroke="#6b3a10" stroke-width="1"/>
<rect x="174.3" y="2244" width="65.9" height="71.2" fill="#fb9a0a" stroke="#6b3a10" stroke-width="1"/>
<rect x="174.3" y="2352" width="65.9" height="97.5" fill="#fb9a0a" stroke="#6b3a10" stroke-width="1"/>
<rect x="174.3" y="2479" width="65.9" height="15.5" fill="#fb9a0a" stroke="#6b3a10" stroke-width="1"/>
<rect x="174.3" y="2496" width="65.9" height="26.8" fill="#9c9c9c" stroke="#6b3a10" stroke-width="1"/>
<rect x="174.3" y="2524" width="65.9" height="35.8" fill="#fb9a0a" stroke="#6b3a10" stroke-width="1"/>
<rect x="174.3" y="2610" width="65.9" height="10.2" fill="#fb9a0a" stroke="#6b3a10" stroke-width="1"/>
<rect x="174.3" y="2772.6" width="65.9" height="11.2" fill="#fb9a0a" stroke="#6b3a10" stroke-width="1"/>
<text x="208.8" y="2072.5" font-size="15" text-anchor="middle" fill="#7a2e00" textLength="44" lengthAdjust="spacingAndGlyphs">Sand</text>
<text x="208.8" y="2144" font-size="15" text-anchor="middle" fill="#7a2e00" textLength="44" lengthAdjust="spacingAndGlyphs">Sand</text>
<text x="208.8" y="2180" font-size="15" text-anchor="middle" fill="#7a2e00" textLength="44" lengthAdjust="spacingAndGlyphs">Sand</text>
<text x="208.8" y="2285" font-size="15" text-anchor="middle" fill="#7a2e00" textLength="44" lengthAdjust="spacingAndGlyphs">Sand</text>
<text x="208.8" y="2407" font-size="15" text-anchor="middle" fill="#7a2e00" textLength="44" lengthAdjust="spacingAndGlyphs">Sand</text>
<text x="208.8" y="2546.5" font-size="15" text-anchor="middle" fill="#7a2e00" textLength="44" lengthAdjust="spacingAndGlyphs">Sand</text>
<g clip-path="url(#lc1979)"><text transform="translate(212.2 2697) rotate(-90)" font-size="15" text-anchor="middle" fill="#e8e8e8" textLength="66" lengthAdjust="spacingAndGlyphs">InterlayerA</text></g>
<g clip-path="url(#lc1979)"><text transform="translate(212.2 2010) rotate(-90)" font-size="15" text-anchor="middle" fill="#e8e8e8" textLength="66" lengthAdjust="spacingAndGlyphs">InterlayerA</text></g>
<line x1="168" y1="2194.8" x2="172.5" y2="2194.8" stroke="#333" stroke-width="1.5"/>
<clipPath id="cp7"><polygon points="332,1995 458,1991 602.5,1960 602.5,2779 458,2796 332,2803.5"/></clipPath>
<g filter="url(#soft)"><g clip-path="url(#cp7)" shape-rendering="crispEdges">
<polygon points="332,1995 458,1991 602.5,1960 602.5,2779 458,2796 332,2803.5" fill="#313131"/>
<g transform="translate(332 1960) scale(9 5)">
<path fill="#fe9802" d="M25 1h1v1h-1zM24 2h2v1h-2zM24 3h1v1h-1zM3 11h1v1h-1zM1 12h4v1h-4zM0 13h6v1h-6zM0 14h7v1h-7zM0 15h9v1h-9zM25 16h3v1h-3zM0 16h10v2h-10zM22 17h6v1h-6zM18 18h10v1h-10zM0 18h11v1h-11zM0 19h13v1h-13zM17 19h11v1h-11zM0 20h28v3h-28zM0 23h26v1h-26zM0 24h25v1h-25zM0 25h24v1h-24zM0 26h23v1h-23zM14 27h5v1h-5zM0 27h11v1h-11zM0 28h6v1h-6zM0 29h5v1h-5zM0 30h1v1h-1zM28 32h2v1h-2zM25 33h5v1h-5zM23 34h7v1h-7zM22 35h5v1h-5zM8 36h9v1h-9zM22 36h2v1h-2zM28 37h2v1h-2zM25 38h5v1h-5zM0 37h18v3h-18zM23 39h7v1h-7zM0 40h30v1h-30zM0 41h18v1h-18zM20 41h10v1h-10zM0 42h30v2h-30zM0 44h28v1h-28zM0 45h27v1h-27zM0 46h25v1h-25zM0 47h21v1h-21zM0 48h17v1h-17zM0 49h11v1h-11zM12 50h2v1h-2zM0 50h5v1h-5zM10 51h10v4h-10zM14 55h3v1h-3zM27 55h3v1h-3zM24 56h6v1h-6zM21 57h9v1h-9zM9 58h21v1h-21zM0 59h1v1h-1zM6 59h20v1h-20zM0 60h26v1h-26zM0 61h30v3h-30zM0 64h2v1h-2zM6 64h24v4h-24zM2 68h28v1h-28zM2 69h27v1h-27zM0 70h26v1h-26zM0 71h23v1h-23zM11 72h10v1h-10zM27 72h3v1h-3zM0 72h9v1h-9zM14 73h5v1h-5zM24 73h6v1h-6zM0 73h3v1h-3zM22 74h8v1h-8zM20 75h10v1h-10zM18 76h12v1h-12zM15 77h15v4h-15zM12 81h18v1h-18zM10 82h20v1h-20zM6 83h24v2h-24zM4 85h26v1h-26zM1 86h29v1h-29zM0 87h30v6h-30zM0 93h29v1h-29zM0 94h28v1h-28zM0 95h25v1h-25zM0 96h22v1h-22zM0 97h19v1h-19zM28 97h2v1h-2zM26 98h4v1h-4zM0 98h16v1h-16zM24 99h6v1h-6zM0 99h13v1h-13zM0 100h12v1h-12zM22 100h8v1h-8zM20 101h10v1h-10zM0 101h10v1h-10zM19 102h11v1h-11zM0 102h9v1h-9zM0 103h7v1h-7zM18 103h12v1h-12zM16 104h14v1h-14zM10 104h1v1h-1zM0 104h4v1h-4zM0 105h2v1h-2zM8 105h14v1h-14zM5 106h14v1h-14zM26 105h4v3h-4zM2 107h15v1h-15zM24 108h6v1h-6zM0 108h14v1h-14zM22 109h8v1h-8zM0 109h11v1h-11zM20 110h10v1h-10zM0 110h6v1h-6zM18 111h12v1h-12zM0 111h5v1h-5zM16 112h14v1h-14zM0 112h4v1h-4zM11 113h19v1h-19zM0 113h2v1h-2zM9 114h21v1h-21zM7 115h23v1h-23zM0 116h3v1h-3zM5 116h25v1h-25zM0 117h30v3h-30zM25 120h4v1h-4zM0 120h21v1h-21zM11 121h1v1h-1zM0 121h10v1h-10zM0 122h8v1h-8zM28 123h2v1h-2zM0 123h6v1h-6zM0 124h4v1h-4zM26 124h4v1h-4zM0 125h1v1h-1zM24 125h6v1h-6zM21 126h9v1h-9zM18 127h12v1h-12zM15 128h15v1h-15zM13 129h17v1h-17zM2 129h2v1h-2zM11 130h19v1h-19zM0 130h4v2h-4zM9 131h21v1h-21zM0 132h29v1h-29zM0 133h24v1h-24zM0 134h22v1h-22zM0 135h18v1h-18zM0 136h14v1h-14zM0 137h9v1h-9zM0 138h4v1h-4zM29 158h1v1h-1zM26 159h4v1h-4zM23 160h7v1h-7zM20 161h10v1h-10zM18 162h12v1h-12zM17 163h13v1h-13zM16 164h14v3h-14zM16 167h8v1h-8zM16 168h2v1h-2z"/>
<path fill="#cdcdcd" d="M18 41h2v1h-2zM28 44h2v1h-2zM28 51h2v1h-2zM26 52h4v1h-4zM23 53h7v1h-7zM4 53h6v2h-6zM20 54h10v1h-10zM2 55h12v1h-12zM17 55h10v1h-10zM0 56h24v1h-24zM0 57h21v1h-21zM0 58h9v1h-9zM1 59h5v1h-5zM26 59h4v2h-4zM2 64h4v1h-4zM0 65h6v3h-6zM0 68h2v2h-2zM22 105h4v1h-4zM19 106h7v1h-7zM17 107h9v1h-9zM14 108h10v1h-10zM11 109h11v1h-11zM6 110h14v1h-14zM5 111h13v1h-13zM4 112h12v1h-12zM2 113h9v1h-9zM0 114h9v1h-9zM0 115h7v1h-7zM3 116h2v1h-2zM10 121h1v1h-1zM8 122h4v1h-4zM6 123h4v1h-4zM4 124h4v1h-4zM1 125h5v1h-5zM0 126h2v1h-2z"/>
</g></g></g>
<clipPath id="cp8"><polygon points="674.5,2002 804,1994 933,1965 933,2778 813,2797 674.5,2802"/></clipPath>
<g filter="url(#soft)"><g clip-path="url(#cp8)" shape-rendering="crispEdges">
<polygon points="674.5,2002 804,1994 933,1965 933,2778 813,2797 674.5,2802" fill="#313131"/>
<g transform="translate(674.5 1965) scale(9 5)">
<path fill="#fe9802" d="M28 0h1v1h-1zM26 1h3v1h-3zM24 2h5v1h-5zM22 3h7v1h-7zM19 4h7v1h-7zM17 5h7v1h-7zM17 6h5v1h-5zM25 14h3v1h-3zM23 15h5v1h-5zM20 16h8v1h-8zM17 17h9v1h-9zM16 18h7v1h-7zM16 19h5v1h-5zM17 20h1v1h-1zM0 20h3v2h-3zM26 31h3v1h-3zM22 32h7v1h-7zM19 33h10v1h-10zM18 34h11v1h-11zM13 35h16v1h-16zM12 36h17v1h-17zM5 37h24v1h-24zM5 38h23v1h-23zM0 39h28v1h-28zM0 40h26v1h-26zM0 41h21v1h-21zM28 42h1v1h-1zM0 42h16v1h-16zM26 43h3v1h-3zM0 43h17v1h-17zM24 44h5v1h-5zM0 44h18v2h-18zM20 45h9v1h-9zM0 46h29v1h-29zM1 47h28v1h-28zM0 48h29v8h-29zM0 56h25v1h-25zM0 57h22v2h-22zM24 59h3v1h-3zM0 59h23v2h-23zM0 61h20v1h-20zM0 62h17v1h-17zM0 63h10v1h-10zM0 64h8v1h-8zM0 65h4v1h-4zM0 66h2v1h-2zM0 67h1v1h-1zM28 70h1v1h-1zM25 71h4v1h-4zM23 72h6v1h-6zM20 73h9v1h-9zM18 74h11v2h-11zM13 76h16v1h-16zM9 77h20v2h-20zM0 79h29v2h-29zM0 81h9v1h-9zM11 81h18v2h-18zM0 82h1v1h-1zM9 83h20v5h-20zM5 88h24v1h-24zM1 89h28v1h-28zM0 90h29v1h-29zM0 91h26v1h-26zM0 92h24v2h-24zM0 94h28v1h-28zM0 95h26v3h-26zM27 97h2v1h-2zM0 98h29v1h-29zM0 99h26v1h-26zM27 100h2v1h-2zM0 100h22v1h-22zM16 101h4v1h-4zM0 101h13v1h-13zM24 101h5v1h-5zM22 102h7v1h-7zM0 102h10v1h-10zM17 102h3v1h-3zM19 103h10v1h-10zM0 103h6v1h-6zM0 104h2v1h-2zM16 104h13v1h-13zM13 105h16v1h-16zM10 106h19v1h-19zM8 107h21v1h-21zM6 108h23v1h-23zM4 109h25v1h-25zM2 110h27v1h-27zM0 111h29v2h-29zM0 113h8v1h-8zM10 113h19v1h-19zM9 114h20v1h-20zM0 114h5v2h-5zM6 115h23v1h-23zM0 116h27v1h-27zM0 117h26v1h-26zM0 118h23v1h-23zM0 119h21v1h-21zM27 120h2v1h-2zM11 120h6v1h-6zM0 120h10v1h-10zM25 121h4v1h-4zM0 121h9v1h-9zM23 122h6v1h-6zM20 123h9v1h-9zM17 124h12v1h-12zM15 125h14v1h-14zM13 126h16v1h-16zM11 127h17v1h-17zM10 128h17v1h-17zM28 129h1v1h-1zM8 129h18v1h-18zM7 130h22v2h-22zM13 132h6v1h-6zM9 132h2v1h-2zM20 132h9v2h-9zM12 133h4v1h-4zM17 134h11v1h-11zM10 134h6v1h-6zM8 135h18v1h-18zM8 136h15v1h-15zM8 137h11v1h-11zM6 138h11v1h-11zM5 139h11v1h-11zM5 140h9v1h-9zM6 141h4v1h-4zM20 148h5v1h-5zM15 149h12v1h-12zM8 150h21v1h-21zM5 151h24v1h-24zM2 152h27v1h-27zM1 153h28v1h-28zM0 154h28v1h-28zM0 155h27v1h-27zM0 156h25v1h-25zM0 157h21v1h-21zM0 158h17v1h-17zM1 159h11v1h-11zM2 160h9v1h-9z"/>
<path fill="#cdcdcd" d="M3 19h6v3h-6zM0 22h8v1h-8zM28 38h1v2h-1zM26 40h3v1h-3zM21 41h8v1h-8zM16 42h12v1h-12zM17 43h9v1h-9zM18 44h6v1h-6zM18 45h2v1h-2zM0 47h1v1h-1zM27 59h2v1h-2zM23 60h6v1h-6zM20 61h9v1h-9zM17 62h12v1h-12zM10 63h19v1h-19zM8 64h18v1h-18zM4 65h19v1h-19zM4 66h16v1h-16zM4 67h13v1h-13zM5 68h9v1h-9zM9 81h2v1h-2zM1 82h10v1h-10zM0 83h9v3h-9zM0 86h8v1h-8zM0 87h5v1h-5zM0 88h1v1h-1zM28 94h1v1h-1zM26 95h3v2h-3zM26 97h1v1h-1zM12 124h4v1h-4zM10 125h4v1h-4zM7 126h5v1h-5zM5 127h5v1h-5zM3 128h6v1h-6zM1 129h6v1h-6zM0 130h5v1h-5zM0 131h4v1h-4zM0 132h3v1h-3zM19 132h1v1h-1zM0 133h1v1h-1zM16 133h4v1h-4zM16 134h1v1h-1zM27 156h2v1h-2zM24 157h5v1h-5zM21 158h5v1h-5zM20 159h3v1h-3zM0 159h1v1h-1zM0 160h2v1h-2zM20 160h1v2h-1zM0 161h10v2h-10zM0 163h7v1h-7zM0 164h1v1h-1z"/>
</g></g></g>
<clipPath id="cp9"><polygon points="1008,2005 1128,1996 1270.5,1967 1270.5,2779 1134,2800 1008,2806"/></clipPath>
<g filter="url(#soft)"><g clip-path="url(#cp9)" shape-rendering="crispEdges">
<polygon points="1008,2005 1128,1996 1270.5,1967 1270.5,2779 1134,2800 1008,2806" fill="#313131"/>
<g transform="translate(1008 1967) scale(9 5)">
<path fill="#fe9802" d="M15 14h5v1h-5zM13 15h5v1h-5zM3 16h10v1h-10zM1 17h6v1h-6zM15 17h5v1h-5zM13 18h6v1h-6zM5 19h10v1h-10zM0 20h10v1h-10zM0 21h4v1h-4zM27 32h2v1h-2zM26 33h3v1h-3zM24 34h5v1h-5zM22 35h7v1h-7zM20 36h9v1h-9zM18 37h11v1h-11zM5 37h7v1h-7zM0 38h14v1h-14zM16 38h13v1h-13zM0 39h18v1h-18zM21 39h8v1h-8zM0 40h17v1h-17zM25 40h2v1h-2zM0 41h14v1h-14zM23 41h4v1h-4zM18 42h8v1h-8zM0 42h6v1h-6zM12 43h13v1h-13zM0 43h1v1h-1zM9 43h1v1h-1zM0 44h24v1h-24zM28 43h1v3h-1zM0 45h25v1h-25zM0 46h21v1h-21zM0 47h20v1h-20zM23 47h6v1h-6zM0 48h29v2h-29zM5 50h24v1h-24zM0 51h29v15h-29zM0 66h7v1h-7zM15 66h14v2h-14zM3 67h2v1h-2zM20 68h9v1h-9zM21 69h8v1h-8zM22 70h6v1h-6zM27 81h2v1h-2zM24 82h5v1h-5zM20 83h9v1h-9zM15 84h14v1h-14zM0 84h3v1h-3zM11 85h18v1h-18zM0 85h4v2h-4zM7 86h22v1h-22zM0 87h29v3h-29zM0 90h19v2h-19zM21 90h8v2h-8zM0 92h29v2h-29zM3 94h26v2h-26zM0 96h28v1h-28zM0 97h25v2h-25zM0 99h22v1h-22zM0 100h19v1h-19zM0 101h15v1h-15zM0 102h11v1h-11zM24 103h4v1h-4zM0 103h6v1h-6zM18 104h3v1h-3zM0 104h3v1h-3zM24 104h5v1h-5zM22 105h7v1h-7zM14 105h7v1h-7zM13 106h16v1h-16zM10 107h19v1h-19zM8 108h21v1h-21zM6 109h23v1h-23zM4 110h25v1h-25zM2 111h27v1h-27zM1 112h28v1h-28zM0 113h29v5h-29zM26 118h3v1h-3zM0 118h22v1h-22zM0 119h21v1h-21zM0 120h17v1h-17zM23 121h6v1h-6zM0 121h10v1h-10zM19 122h10v1h-10zM0 122h6v1h-6zM14 123h15v1h-15zM26 124h3v1h-3zM12 124h12v1h-12zM8 125h11v1h-11zM25 125h4v1h-4zM20 125h2v1h-2zM20 126h9v1h-9zM4 126h14v1h-14zM2 127h23v1h-23zM28 127h1v2h-1zM0 128h24v1h-24zM26 129h3v1h-3zM7 129h17v1h-17zM0 129h6v1h-6zM25 130h4v1h-4zM7 130h15v1h-15zM0 130h5v1h-5zM23 131h6v1h-6zM0 131h22v1h-22zM0 132h4v1h-4zM7 132h22v3h-22zM0 133h1v3h-1zM6 135h23v1h-23zM0 136h29v1h-29zM0 137h27v1h-27zM0 138h24v1h-24zM0 139h19v1h-19zM0 140h15v1h-15zM0 141h9v1h-9zM10 157h7v1h-7zM4 158h11v1h-11zM0 159h12v1h-12zM0 160h10v1h-10zM28 161h1v1h-1zM0 161h6v1h-6zM25 162h4v1h-4zM21 163h8v1h-8zM17 164h12v1h-12zM12 165h17v1h-17zM9 166h20v1h-20zM7 167h22v1h-22z"/>
<path fill="#cdcdcd" d="M1 26h2v1h-2zM0 27h3v1h-3zM0 28h7v1h-7zM0 29h5v1h-5zM27 40h2v2h-2zM6 42h3v1h-3zM26 42h3v1h-3zM25 43h3v1h-3zM1 43h8v1h-8zM24 44h4v1h-4zM7 66h8v1h-8zM0 67h3v1h-3zM5 67h10v1h-10zM0 68h12v1h-12zM26 80h3v1h-3zM23 81h4v1h-4zM19 82h5v1h-5zM13 83h7v1h-7zM8 84h7v1h-7zM4 85h7v1h-7zM4 86h3v1h-3zM19 90h2v2h-2zM0 94h3v2h-3zM25 127h3v1h-3zM24 128h4v1h-4zM24 129h2v1h-2zM22 130h3v1h-3zM22 131h1v1h-1zM4 132h3v1h-3zM1 133h6v2h-6zM1 135h5v1h-5zM12 155h8v1h-8zM1 155h2v1h-2zM0 156h3v1h-3zM6 156h14v1h-14zM0 157h10v1h-10zM0 158h4v1h-4zM6 161h1v1h-1zM0 162h7v1h-7zM0 163h5v1h-5z"/>
</g></g></g>
<clipPath id="cp10"><polygon points="1348,2000 1483.5,1990 1632,1960 1632,2778 1489,2798 1348,2805"/></clipPath>
<g filter="url(#soft)"><g clip-path="url(#cp10)" shape-rendering="crispEdges">
<polygon points="1348,2000 1483.5,1990 1632,1960 1632,2778 1489,2798 1348,2805" fill="#313131"/>
<g transform="translate(1348 1960) scale(9 5)">
<path fill="#fe9802" d="M29 13h3v1h-3zM27 14h4v1h-4zM24 15h4v1h-4zM22 16h4v1h-4zM19 17h5v1h-5zM17 18h4v1h-4zM16 19h3v1h-3zM13 20h4v1h-4zM10 21h6v1h-6zM9 22h4v1h-4zM31 28h1v1h-1zM28 29h4v1h-4zM24 30h8v1h-8zM20 31h12v1h-12zM18 32h14v1h-14zM12 33h20v1h-20zM9 34h23v1h-23zM9 35h9v1h-9zM19 35h13v2h-13zM0 36h16v1h-16zM14 37h2v1h-2zM0 37h9v1h-9zM17 37h15v1h-15zM4 38h28v1h-28zM4 39h26v1h-26zM3 40h24v1h-24zM0 41h23v1h-23zM0 42h19v1h-19zM27 42h5v1h-5zM0 43h12v1h-12zM22 43h10v1h-10zM13 43h3v1h-3zM19 44h13v1h-13zM0 44h6v1h-6zM0 45h4v1h-4zM16 45h16v1h-16zM9 46h23v1h-23zM7 47h25v2h-25zM0 48h3v1h-3zM0 49h25v1h-25zM27 49h5v1h-5zM26 50h6v1h-6zM16 50h5v1h-5zM0 50h14v1h-14zM0 51h13v1h-13zM23 51h9v1h-9zM0 52h17v1h-17zM22 52h10v2h-10zM0 53h19v1h-19zM0 54h32v5h-32zM0 59h4v1h-4zM5 59h27v2h-27zM3 61h29v1h-29zM2 62h30v1h-30zM0 63h32v11h-32zM23 74h9v1h-9zM0 74h17v1h-17zM18 75h14v1h-14zM0 75h11v1h-11zM13 76h19v1h-19zM9 77h23v4h-23zM9 81h14v1h-14zM1 82h18v1h-18zM28 81h4v3h-4zM1 83h17v1h-17zM1 84h16v1h-16zM0 85h16v2h-16zM30 86h2v1h-2zM26 87h6v1h-6zM0 87h14v1h-14zM22 88h10v1h-10zM21 89h11v1h-11zM19 90h13v1h-13zM18 91h14v1h-14zM0 88h13v5h-13zM16 92h16v1h-16zM0 93h32v2h-32zM25 95h5v1h-5zM0 95h22v1h-22zM0 96h20v1h-20zM0 97h17v1h-17zM0 98h12v1h-12zM0 99h9v1h-9zM0 100h7v1h-7zM31 100h1v1h-1zM0 101h4v1h-4zM28 101h4v1h-4zM24 102h8v1h-8zM0 102h3v1h-3zM0 103h1v1h-1zM21 103h11v2h-11zM19 105h13v1h-13zM13 106h19v1h-19zM10 107h22v1h-22zM6 108h26v1h-26zM3 109h21v1h-21zM27 109h5v2h-5zM1 110h20v1h-20zM28 111h4v1h-4zM0 111h17v1h-17zM26 112h6v1h-6zM0 112h16v1h-16zM0 113h11v1h-11zM23 113h9v1h-9zM0 114h8v1h-8zM20 114h12v1h-12zM17 115h15v1h-15zM0 115h5v1h-5zM0 116h2v1h-2zM16 116h16v1h-16zM13 117h19v1h-19zM7 118h25v1h-25zM5 119h27v1h-27zM5 120h26v1h-26zM13 121h15v1h-15zM5 121h6v1h-6zM21 122h4v1h-4zM29 122h3v1h-3zM14 122h5v1h-5zM0 122h8v1h-8zM26 123h5v1h-5zM21 123h2v1h-2zM0 123h4v1h-4zM20 124h1v1h-1zM24 124h3v1h-3zM12 124h1v1h-1zM8 125h7v1h-7zM16 125h12v1h-12zM6 126h22v1h-22zM5 127h12v1h-12zM22 127h10v2h-10zM4 128h13v1h-13zM19 129h13v1h-13zM0 129h17v1h-17zM0 130h29v1h-29zM0 131h25v1h-25zM0 132h21v1h-21zM30 133h1v1h-1zM0 133h17v1h-17zM0 134h14v1h-14zM27 134h1v1h-1zM0 135h7v1h-7zM31 135h1v1h-1zM12 135h1v1h-1zM27 136h5v2h-5z"/>
<path fill="#cdcdcd" d="M12 18h3v1h-3zM11 19h4v1h-4zM11 20h2v1h-2zM18 35h1v1h-1zM16 36h3v1h-3zM16 37h1v1h-1zM0 38h4v1h-4zM0 39h3v1h-3zM30 39h2v1h-2zM27 40h5v1h-5zM23 41h9v1h-9zM19 42h8v1h-8zM12 43h1v1h-1zM16 43h6v1h-6zM6 44h13v1h-13zM4 45h12v1h-12zM0 46h9v1h-9zM6 47h1v1h-1zM0 47h5v1h-5zM4 59h1v1h-1zM0 60h5v1h-5zM0 61h3v1h-3zM0 62h2v1h-2zM23 81h5v1h-5zM19 82h9v1h-9zM18 83h5v1h-5zM17 84h4v1h-4zM31 123h1v1h-1zM27 124h5v1h-5zM28 125h4v2h-4zM17 127h5v2h-5zM17 129h2v1h-2zM29 130h3v1h-3zM25 131h7v1h-7zM21 132h11v1h-11zM17 133h13v1h-13zM14 134h13v1h-13zM13 135h10v1h-10zM12 136h8v1h-8zM16 137h2v1h-2zM27 153h5v1h-5zM26 154h6v1h-6zM22 155h10v1h-10zM15 156h10v1h-10zM11 157h10v1h-10zM5 158h11v1h-11zM0 159h10v1h-10zM0 160h4v1h-4z"/>
</g></g></g>
<clipPath id="cp11"><polygon points="1700,2000 1824,1990 1960.5,1960 1960.5,2778 1830,2798 1700,2805"/></clipPath>
<g filter="url(#soft)"><g clip-path="url(#cp11)" shape-rendering="crispEdges">
<polygon points="1700,2000 1824,1990 1960.5,1960 1960.5,2778 1830,2798 1700,2805" fill="#313131"/>
<g transform="translate(1700 1960) scale(9 5)">
<path fill="#fe9802" d="M27 10h2v1h-2zM24 11h5v1h-5zM21 12h8v1h-8zM18 13h11v1h-11zM12 14h2v1h-2zM16 14h13v1h-13zM9 15h19v1h-19zM6 16h20v1h-20zM0 17h25v1h-25zM0 18h24v1h-24zM0 19h21v1h-21zM0 20h18v1h-18zM0 21h16v1h-16zM0 22h12v1h-12zM0 23h4v1h-4zM4 27h3v1h-3zM0 28h7v1h-7zM0 29h6v1h-6zM27 30h2v1h-2zM20 31h9v1h-9zM13 32h13v1h-13zM7 33h17v1h-17zM5 34h17v1h-17zM27 34h2v1h-2zM0 35h29v3h-29zM0 38h26v1h-26zM0 39h23v1h-23zM0 40h20v1h-20zM26 40h3v1h-3zM0 41h15v1h-15zM22 41h7v1h-7zM0 42h13v1h-13zM19 42h10v1h-10zM10 43h2v1h-2zM16 43h13v1h-13zM0 43h9v1h-9zM0 44h6v1h-6zM12 44h17v2h-17zM0 45h4v1h-4zM0 46h27v1h-27zM0 47h12v1h-12zM13 47h13v1h-13zM16 48h9v1h-9zM0 48h11v1h-11zM28 48h1v1h-1zM26 49h3v1h-3zM19 49h3v1h-3zM0 49h9v1h-9zM25 50h4v1h-4zM0 50h4v1h-4zM14 51h5v1h-5zM7 51h5v1h-5zM24 51h5v1h-5zM0 52h20v1h-20zM22 52h7v1h-7zM0 53h29v3h-29zM4 56h25v2h-25zM2 58h27v3h-27zM0 61h29v2h-29zM0 63h24v1h-24zM0 64h22v2h-22zM0 66h23v1h-23zM0 67h29v6h-29zM25 73h4v1h-4zM0 73h19v1h-19zM22 74h7v1h-7zM0 74h17v1h-17zM18 75h11v1h-11zM0 75h11v1h-11zM15 76h14v1h-14zM0 76h5v1h-5zM8 77h21v1h-21zM6 78h23v1h-23zM0 79h29v3h-29zM0 82h28v2h-28zM23 84h6v1h-6zM0 84h22v1h-22zM20 85h9v1h-9zM0 85h7v1h-7zM8 85h6v1h-6zM16 86h13v1h-13zM8 86h2v1h-2zM12 87h17v1h-17zM0 86h6v3h-6zM7 88h22v1h-22zM0 89h29v8h-29zM0 97h27v1h-27zM0 98h24v1h-24zM0 99h21v1h-21zM0 100h7v1h-7zM13 100h5v1h-5zM26 101h3v1h-3zM0 101h5v1h-5zM15 101h2v1h-2zM24 102h5v1h-5zM16 102h1v1h-1zM22 103h7v1h-7zM20 104h9v3h-9zM18 107h11v1h-11zM16 108h13v1h-13zM14 109h15v1h-15zM12 110h17v1h-17zM11 111h18v1h-18zM9 112h20v1h-20zM8 113h21v1h-21zM6 114h23v1h-23zM3 115h26v1h-26zM0 116h29v2h-29zM0 118h26v1h-26zM0 119h23v1h-23zM0 120h21v1h-21zM8 121h12v1h-12zM0 121h6v1h-6zM0 122h2v1h-2zM8 122h9v1h-9zM26 124h3v1h-3zM24 125h5v1h-5zM6 126h1v1h-1zM22 126h7v1h-7zM21 127h8v1h-8zM14 128h2v1h-2zM2 127h6v3h-6zM20 128h9v2h-9zM13 129h3v1h-3zM12 130h17v1h-17zM2 130h5v1h-5zM11 131h18v1h-18zM9 132h17v1h-17zM7 133h17v1h-17zM8 134h5v1h-5zM28 134h1v1h-1zM15 134h5v2h-5zM23 135h6v1h-6zM8 135h2v1h-2zM0 135h4v2h-4zM21 136h8v1h-8zM15 136h2v1h-2zM15 137h3v1h-3zM21 137h7v1h-7zM15 138h11v1h-11zM15 139h9v1h-9zM15 140h7v1h-7zM4 141h2v1h-2zM15 141h5v1h-5zM15 142h2v1h-2zM1 142h13v1h-13zM0 143h16v1h-16zM0 144h14v1h-14zM0 145h9v1h-9zM0 146h4v1h-4zM0 147h2v1h-2z"/>
<path fill="#cdcdcd" d="M16 23h4v1h-4zM14 24h4v1h-4zM12 25h3v1h-3zM1 26h12v1h-12zM7 27h3v1h-3zM0 27h4v1h-4zM26 32h3v1h-3zM24 33h5v1h-5zM22 34h5v1h-5zM26 38h3v1h-3zM23 39h6v1h-6zM20 40h6v1h-6zM15 41h7v1h-7zM13 42h6v1h-6zM12 43h4v1h-4zM10 44h2v1h-2zM4 45h8v1h-8zM0 58h2v3h-2zM24 63h5v1h-5zM22 64h7v2h-7zM23 66h6v1h-6zM28 82h1v2h-1zM22 84h1v1h-1zM14 85h6v1h-6zM7 85h1v1h-1zM10 86h6v1h-6zM6 86h2v1h-2zM6 87h6v1h-6zM6 88h1v1h-1zM6 121h2v2h-2zM26 132h3v1h-3zM24 133h5v1h-5zM20 134h8v1h-8zM22 135h1v1h-1zM3 138h2v1h-2zM0 139h6v2h-6zM0 141h4v1h-4zM19 158h1v1h-1zM12 159h8v1h-8zM12 160h9v1h-9zM6 161h15v1h-15zM0 162h21v1h-21zM0 163h14v1h-14zM0 164h9v1h-9zM0 165h4v1h-4z"/>
</g></g></g>
<line x1="285" y1="1920" x2="285" y2="2790" stroke="#fd08ee" stroke-width="4.4"/>
<circle cx="285" cy="1899" r="25.3" fill="#fff" stroke="#fd08ee" stroke-width="5.8"/>
<path d="M260 1899H310M285 1874V1924" stroke="#fd08ee" stroke-width="3.4" fill="none"/>
<circle cx="285" cy="1988.7" r="16" fill="#fd08ee"/>
<circle cx="285" cy="2108.2" r="16" fill="#fd08ee"/>
<circle cx="285" cy="2210" r="16" fill="#fd08ee"/>
<circle cx="285" cy="2334" r="16" fill="#fd08ee"/>
<circle cx="285" cy="2473.3" r="16" fill="#fd08ee"/>
<circle cx="285" cy="2576.6" r="16" fill="#fd08ee"/>
<circle cx="285" cy="2674" r="16" fill="#fd08ee"/>
<circle cx="285" cy="2790.5" r="16" fill="#fd08ee"/>
<text x="286.5" y="1852.5" font-size="44" text-anchor="middle" fill="#111">B</text>
<line x1="459.5" y1="1920" x2="463.5" y2="2796" stroke="#fd08ee" stroke-width="13.5"/>
<line x1="463.7" y1="2816" x2="464" y2="2865" stroke="#fd08ee" stroke-width="12"/>
<circle cx="459" cy="1896.5" r="30.5" fill="#fd08ee"/>
<path d="M453.5 1879.9A17.5 17.5 0 0 0 442.4 1891H453.5Z M464.5 1879.9A17.5 17.5 0 0 1 475.6 1891H464.5Z M453.5 1913.1A17.5 17.5 0 0 1 442.4 1902H453.5Z M464.5 1913.1A17.5 17.5 0 0 0 475.6 1902H464.5Z" fill="#ffd2ff"/>
<circle cx="457.3" cy="1988" r="14" fill="#fff"/>
<circle cx="457.9" cy="2111.5" r="14" fill="#fff"/>
<circle cx="458.3" cy="2209.5" r="14" fill="#fff"/>
<circle cx="458.9" cy="2335" r="14" fill="#fff"/>
<circle cx="459.5" cy="2474" r="14" fill="#fff"/>
<circle cx="460" cy="2577" r="14" fill="#fff"/>
<circle cx="460.4" cy="2672.5" r="14" fill="#fff"/>
<circle cx="461" cy="2790" r="14" fill="#fff"/>
<text x="472" y="1852.5" font-size="44" text-anchor="middle" fill="#111" letter-spacing="2">B1</text>
<line x1="804" y1="1920" x2="811" y2="2797" stroke="#fd08ee" stroke-width="13.5"/>
<line x1="811.2" y1="2816" x2="811.5" y2="2865" stroke="#fd08ee" stroke-width="12"/>
<circle cx="805" cy="1896.5" r="30.5" fill="#fd08ee"/>
<path d="M799.5 1879.9A17.5 17.5 0 0 0 788.4 1891H799.5Z M810.5 1879.9A17.5 17.5 0 0 1 821.6 1891H810.5Z M799.5 1913.1A17.5 17.5 0 0 1 788.4 1902H799.5Z M810.5 1913.1A17.5 17.5 0 0 0 821.6 1902H810.5Z" fill="#ffd2ff"/>
<circle cx="802.1" cy="1988" r="14" fill="#fff"/>
<circle cx="803" cy="2111.5" r="14" fill="#fff"/>
<circle cx="803.8" cy="2209.5" r="14" fill="#fff"/>
<circle cx="804.8" cy="2335" r="14" fill="#fff"/>
<circle cx="805.9" cy="2474" r="14" fill="#fff"/>
<circle cx="806.7" cy="2577" r="14" fill="#fff"/>
<circle cx="807.5" cy="2672.5" r="14" fill="#fff"/>
<circle cx="808.4" cy="2790" r="14" fill="#fff"/>
<text x="812" y="1852.5" font-size="44" text-anchor="middle" fill="#111" letter-spacing="2">B2</text>
<line x1="1129" y1="1920" x2="1133" y2="2800" stroke="#fd08ee" stroke-width="13.5"/>
<line x1="1133.2" y1="2816" x2="1133.5" y2="2865" stroke="#fd08ee" stroke-width="12"/>
<circle cx="1130" cy="1896.5" r="30.5" fill="#fd08ee"/>
<path d="M1124.5 1879.9A17.5 17.5 0 0 0 1113.4 1891H1124.5Z M1135.5 1879.9A17.5 17.5 0 0 1 1146.6 1891H1135.5Z M1124.5 1913.1A17.5 17.5 0 0 1 1113.4 1902H1124.5Z M1135.5 1913.1A17.5 17.5 0 0 0 1146.6 1902H1135.5Z" fill="#ffd2ff"/>
<circle cx="1126.8" cy="1988" r="14" fill="#fff"/>
<circle cx="1127.4" cy="2111.5" r="14" fill="#fff"/>
<circle cx="1127.8" cy="2209.5" r="14" fill="#fff"/>
<circle cx="1128.4" cy="2335" r="14" fill="#fff"/>
<circle cx="1129" cy="2474" r="14" fill="#fff"/>
<circle cx="1129.5" cy="2577" r="14" fill="#fff"/>
<circle cx="1129.9" cy="2672.5" r="14" fill="#fff"/>
<circle cx="1130.5" cy="2790" r="14" fill="#fff"/>
<text x="1131" y="1852.5" font-size="44" text-anchor="middle" fill="#111" letter-spacing="2">B3</text>
<line x1="1485.5" y1="1920" x2="1490.5" y2="2798" stroke="#fd08ee" stroke-width="13.5"/>
<line x1="1490.7" y1="2816" x2="1491" y2="2865" stroke="#fd08ee" stroke-width="12"/>
<circle cx="1488" cy="1896.5" r="30.5" fill="#fd08ee"/>
<path d="M1482.5 1879.9A17.5 17.5 0 0 0 1471.4 1891H1482.5Z M1493.5 1879.9A17.5 17.5 0 0 1 1504.6 1891H1493.5Z M1482.5 1913.1A17.5 17.5 0 0 1 1471.4 1902H1482.5Z M1493.5 1913.1A17.5 17.5 0 0 0 1504.6 1902H1493.5Z" fill="#ffd2ff"/>
<circle cx="1483.4" cy="1988" r="14" fill="#fff"/>
<circle cx="1484.1" cy="2111.5" r="14" fill="#fff"/>
<circle cx="1484.7" cy="2209.5" r="14" fill="#fff"/>
<circle cx="1485.4" cy="2335" r="14" fill="#fff"/>
<circle cx="1486.2" cy="2474" r="14" fill="#fff"/>
<circle cx="1486.7" cy="2577" r="14" fill="#fff"/>
<circle cx="1487.3" cy="2672.5" r="14" fill="#fff"/>
<circle cx="1488" cy="2790" r="14" fill="#fff"/>
<text x="1494" y="1852.5" font-size="44" text-anchor="middle" fill="#111" letter-spacing="2">B4</text>
<line x1="1824" y1="1920" x2="1829.5" y2="2798" stroke="#fd08ee" stroke-width="13.5"/>
<line x1="1829.7" y1="2816" x2="1830" y2="2865" stroke="#fd08ee" stroke-width="12"/>
<circle cx="1825.5" cy="1896.5" r="30.5" fill="#fd08ee"/>
<path d="M1820 1879.9A17.5 17.5 0 0 0 1808.9 1891H1820Z M1831 1879.9A17.5 17.5 0 0 1 1842.1 1891H1831Z M1820 1913.1A17.5 17.5 0 0 1 1808.9 1902H1820Z M1831 1913.1A17.5 17.5 0 0 0 1842.1 1902H1831Z" fill="#ffd2ff"/>
<circle cx="1822" cy="1988" r="14" fill="#fff"/>
<circle cx="1822.7" cy="2111.5" r="14" fill="#fff"/>
<circle cx="1823.4" cy="2209.5" r="14" fill="#fff"/>
<circle cx="1824.1" cy="2335" r="14" fill="#fff"/>
<circle cx="1825" cy="2474" r="14" fill="#fff"/>
<circle cx="1825.6" cy="2577" r="14" fill="#fff"/>
<circle cx="1826.2" cy="2672.5" r="14" fill="#fff"/>
<circle cx="1827" cy="2790" r="14" fill="#fff"/>
<text x="1839.5" y="1852.5" font-size="44" text-anchor="middle" fill="#111" letter-spacing="2">B5</text>
<polyline points="175,1986 330,1988.7 2083,1993" fill="none" stroke="#dc1fc2" stroke-width="3.4" stroke-dasharray="17 10"/>
<polyline points="175,2104.5 330,2107.4 2083,2109" fill="none" stroke="#dc1fc2" stroke-width="3.4" stroke-dasharray="17 10"/>
<polyline points="175,2210 330,2213.3 2083,2217" fill="none" stroke="#dc1fc2" stroke-width="3.4" stroke-dasharray="17 10"/>
<polyline points="175,2333.3 330,2336.2 2083,2339" fill="none" stroke="#dc1fc2" stroke-width="3.4" stroke-dasharray="17 10"/>
<polyline points="175,2473.3 330,2475.5 2083,2478.5" fill="none" stroke="#dc1fc2" stroke-width="3.4" stroke-dasharray="17 10"/>
<polyline points="175,2573 330,2576 2083,2578.5" fill="none" stroke="#dc1fc2" stroke-width="3.4" stroke-dasharray="17 10"/>
<polyline points="175,2671.5 330,2673.5 2083,2677" fill="none" stroke="#dc1fc2" stroke-width="3.4" stroke-dasharray="17 10"/>
<polyline points="175,2786 330,2789 2083,2791.5" fill="none" stroke="#dc1fc2" stroke-width="3.4" stroke-dasharray="17 10"/>
<rect x="444.8" y="1986.5" width="25" height="5" fill="#fff"/>
<rect x="450.3" y="1987.4" width="17.5" height="3.2" fill="#dc1fc2"/>
<rect x="445.4" y="2105" width="25" height="5" fill="#fff"/>
<rect x="450.9" y="2105.9" width="17.5" height="3.2" fill="#dc1fc2"/>
<rect x="445.8" y="2211.1" width="25" height="5" fill="#fff"/>
<rect x="451.3" y="2212" width="17.5" height="3.2" fill="#dc1fc2"/>
<rect x="446.4" y="2333.9" width="25" height="5" fill="#fff"/>
<rect x="451.9" y="2334.8" width="17.5" height="3.2" fill="#dc1fc2"/>
<rect x="447" y="2473.2" width="25" height="5" fill="#fff"/>
<rect x="452.5" y="2474.1" width="17.5" height="3.2" fill="#dc1fc2"/>
<rect x="447.5" y="2573.7" width="25" height="5" fill="#fff"/>
<rect x="453" y="2574.6" width="17.5" height="3.2" fill="#dc1fc2"/>
<rect x="447.9" y="2671.3" width="25" height="5" fill="#fff"/>
<rect x="453.4" y="2672.2" width="17.5" height="3.2" fill="#dc1fc2"/>
<rect x="448.5" y="2786.7" width="25" height="5" fill="#fff"/>
<rect x="454" y="2787.6" width="17.5" height="3.2" fill="#dc1fc2"/>
<rect x="789.6" y="1987.4" width="25" height="5" fill="#fff"/>
<rect x="795.1" y="1988.3" width="17.5" height="3.2" fill="#dc1fc2"/>
<rect x="790.5" y="2105.3" width="25" height="5" fill="#fff"/>
<rect x="796" y="2106.2" width="17.5" height="3.2" fill="#dc1fc2"/>
<rect x="791.3" y="2211.8" width="25" height="5" fill="#fff"/>
<rect x="796.8" y="2212.7" width="17.5" height="3.2" fill="#dc1fc2"/>
<rect x="792.3" y="2334.5" width="25" height="5" fill="#fff"/>
<rect x="797.8" y="2335.4" width="17.5" height="3.2" fill="#dc1fc2"/>
<rect x="793.4" y="2473.8" width="25" height="5" fill="#fff"/>
<rect x="798.9" y="2474.7" width="17.5" height="3.2" fill="#dc1fc2"/>
<rect x="794.2" y="2574.2" width="25" height="5" fill="#fff"/>
<rect x="799.7" y="2575.1" width="17.5" height="3.2" fill="#dc1fc2"/>
<rect x="795" y="2671.9" width="25" height="5" fill="#fff"/>
<rect x="800.5" y="2672.8" width="17.5" height="3.2" fill="#dc1fc2"/>
<rect x="795.9" y="2787.2" width="25" height="5" fill="#fff"/>
<rect x="801.4" y="2788.1" width="17.5" height="3.2" fill="#dc1fc2"/>
<rect x="1114.3" y="1988.2" width="25" height="5" fill="#fff"/>
<rect x="1119.8" y="1989.1" width="17.5" height="3.2" fill="#dc1fc2"/>
<rect x="1114.9" y="2105.6" width="25" height="5" fill="#fff"/>
<rect x="1120.4" y="2106.5" width="17.5" height="3.2" fill="#dc1fc2"/>
<rect x="1115.3" y="2212.5" width="25" height="5" fill="#fff"/>
<rect x="1120.8" y="2213.4" width="17.5" height="3.2" fill="#dc1fc2"/>
<rect x="1115.9" y="2335" width="25" height="5" fill="#fff"/>
<rect x="1121.4" y="2335.9" width="17.5" height="3.2" fill="#dc1fc2"/>
<rect x="1116.5" y="2474.4" width="25" height="5" fill="#fff"/>
<rect x="1122" y="2475.3" width="17.5" height="3.2" fill="#dc1fc2"/>
<rect x="1117" y="2574.6" width="25" height="5" fill="#fff"/>
<rect x="1122.5" y="2575.5" width="17.5" height="3.2" fill="#dc1fc2"/>
<rect x="1117.4" y="2672.6" width="25" height="5" fill="#fff"/>
<rect x="1122.9" y="2673.5" width="17.5" height="3.2" fill="#dc1fc2"/>
<rect x="1118" y="2787.6" width="25" height="5" fill="#fff"/>
<rect x="1123.5" y="2788.5" width="17.5" height="3.2" fill="#dc1fc2"/>
<rect x="1470.9" y="1989" width="25" height="5" fill="#fff"/>
<rect x="1476.4" y="1989.9" width="17.5" height="3.2" fill="#dc1fc2"/>
<rect x="1471.6" y="2106" width="25" height="5" fill="#fff"/>
<rect x="1477.1" y="2106.9" width="17.5" height="3.2" fill="#dc1fc2"/>
<rect x="1472.2" y="2213.2" width="25" height="5" fill="#fff"/>
<rect x="1477.7" y="2214.1" width="17.5" height="3.2" fill="#dc1fc2"/>
<rect x="1472.9" y="2335.5" width="25" height="5" fill="#fff"/>
<rect x="1478.4" y="2336.4" width="17.5" height="3.2" fill="#dc1fc2"/>
<rect x="1473.7" y="2475" width="25" height="5" fill="#fff"/>
<rect x="1479.2" y="2475.9" width="17.5" height="3.2" fill="#dc1fc2"/>
<rect x="1474.2" y="2575.2" width="25" height="5" fill="#fff"/>
<rect x="1479.7" y="2576.1" width="17.5" height="3.2" fill="#dc1fc2"/>
<rect x="1474.8" y="2673.3" width="25" height="5" fill="#fff"/>
<rect x="1480.3" y="2674.2" width="17.5" height="3.2" fill="#dc1fc2"/>
<rect x="1475.5" y="2788.2" width="25" height="5" fill="#fff"/>
<rect x="1481" y="2789.1" width="17.5" height="3.2" fill="#dc1fc2"/>
<rect x="1809.5" y="1989.9" width="25" height="5" fill="#fff"/>
<rect x="1815" y="1990.8" width="17.5" height="3.2" fill="#dc1fc2"/>
<rect x="1810.2" y="2106.3" width="25" height="5" fill="#fff"/>
<rect x="1815.7" y="2107.2" width="17.5" height="3.2" fill="#dc1fc2"/>
<rect x="1810.9" y="2214" width="25" height="5" fill="#fff"/>
<rect x="1816.4" y="2214.9" width="17.5" height="3.2" fill="#dc1fc2"/>
<rect x="1811.6" y="2336.1" width="25" height="5" fill="#fff"/>
<rect x="1817.1" y="2337" width="17.5" height="3.2" fill="#dc1fc2"/>
<rect x="1812.5" y="2475.6" width="25" height="5" fill="#fff"/>
<rect x="1818" y="2476.5" width="17.5" height="3.2" fill="#dc1fc2"/>
<rect x="1813.1" y="2575.6" width="25" height="5" fill="#fff"/>
<rect x="1818.6" y="2576.5" width="17.5" height="3.2" fill="#dc1fc2"/>
<rect x="1813.7" y="2674" width="25" height="5" fill="#fff"/>
<rect x="1819.2" y="2674.9" width="17.5" height="3.2" fill="#dc1fc2"/>
<rect x="1814.5" y="2788.6" width="25" height="5" fill="#fff"/>
<rect x="1820" y="2789.5" width="17.5" height="3.2" fill="#dc1fc2"/>
<text x="2021.5" y="1985" font-size="37" text-anchor="middle" fill="#1a1a1a" letter-spacing="3">H7</text>
<text x="2021.5" y="2103.5" font-size="37" text-anchor="middle" fill="#1a1a1a" letter-spacing="3">H8S1</text>
<text x="2021.5" y="2205" font-size="37" text-anchor="middle" fill="#1a1a1a" letter-spacing="3">H8S2</text>
<text x="2021.5" y="2331" font-size="37" text-anchor="middle" fill="#1a1a1a" letter-spacing="3">H8X1</text>
<text x="2021.5" y="2470" font-size="37" text-anchor="middle" fill="#1a1a1a" letter-spacing="3">H8X2</text>
<text x="2021.5" y="2571" font-size="37" text-anchor="middle" fill="#1a1a1a" letter-spacing="3">S11</text>
<text x="2021.5" y="2668.5" font-size="37" text-anchor="middle" fill="#1a1a1a" letter-spacing="3">S12</text>
<text x="2021.5" y="2783.5" font-size="37" text-anchor="middle" fill="#1a1a1a" letter-spacing="3">S13</text>
<rect x="1990.1" y="1833.4" width="8.2" height="8.2" fill="#111"/>
<rect x="2018.3" y="1833.4" width="8.2" height="8.2" fill="#111"/>
<rect x="2046.3" y="1833.4" width="8.2" height="8.2" fill="#111"/>
<rect x="1990.1" y="2380.9" width="8.2" height="8.2" fill="#111"/>
<rect x="2018.3" y="2380.9" width="8.2" height="8.2" fill="#111"/>
<rect x="2046.3" y="2380.9" width="8.2" height="8.2" fill="#111"/>
<rect x="17.5" y="2809.5" width="67" height="57" fill="#fff" stroke="#333" stroke-width="1.6"/>
<text x="51" y="2856" font-size="46" text-anchor="middle" fill="#222">d</text>
</g>
</svg>
</body></html>
